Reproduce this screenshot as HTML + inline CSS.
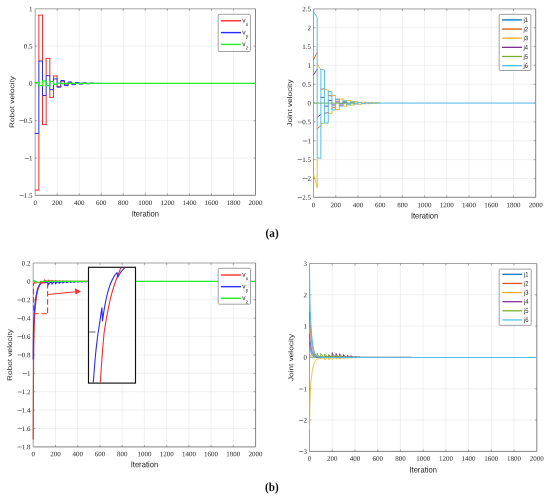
<!DOCTYPE html>
<html><head><meta charset="utf-8"><title>Figure</title>
<style>html,body{margin:0;padding:0;background:#fff}svg{display:block}</style></head>
<body>
<svg width="550" height="499" viewBox="0 0 550 499" text-rendering="geometricPrecision">
<rect x="35.2" y="8.8" width="220.3" height="186.5" fill="#fff"/>
<path d="M57.23 8.8V195.3M79.26 8.8V195.3M101.29 8.8V195.3M123.32 8.8V195.3M145.35 8.8V195.3M167.38 8.8V195.3M189.41 8.8V195.3M211.44 8.8V195.3M233.47 8.8V195.3M35.2 158H255.5M35.2 120.7H255.5M35.2 83.4H255.5M35.2 46.1H255.5" stroke="#e6e6e6" stroke-width="0.6" fill="none"/>
<path d="M35.2 195.3V8.8H255.5" fill="none" stroke="#8c8c8c" stroke-width="0.8"/>
<path d="M35.2 195.3H255.5V8.8" fill="none" stroke="#646464" stroke-width="0.8"/>
<path d="M57.23 195.3v-1.9M57.23 8.8v1.9M79.26 195.3v-1.9M79.26 8.8v1.9M101.29 195.3v-1.9M101.29 8.8v1.9M123.32 195.3v-1.9M123.32 8.8v1.9M145.35 195.3v-1.9M145.35 8.8v1.9M167.38 195.3v-1.9M167.38 8.8v1.9M189.41 195.3v-1.9M189.41 8.8v1.9M211.44 195.3v-1.9M211.44 8.8v1.9M233.47 195.3v-1.9M233.47 8.8v1.9M35.2 158h1.9M255.5 158h-1.9M35.2 120.7h1.9M255.5 120.7h-1.9M35.2 83.4h1.9M255.5 83.4h-1.9M35.2 46.1h1.9M255.5 46.1h-1.9" stroke="#666" stroke-width="0.55" fill="none"/>
<path d="M35.2 190.08L38.86 190.08M38.86 190.08L38.86 133.38M38.86 61.02L38.86 15.14M38.86 15.14L42.51 15.14M42.51 124.43L42.51 95.49M42.51 61.02L42.51 15.14M42.51 124.43L46.17 124.43M46.17 124.43L46.17 95.49M46.17 75.64L46.17 58.41M46.17 58.41L49.83 58.41M49.83 97.42L49.83 89.67M49.83 75.64L49.83 58.41M49.83 97.42L53.48 97.42M53.48 97.42L53.48 89.67M53.48 78.85L53.48 76.01M53.48 76.01L57.14 76.01M57.14 78.85L57.14 76.01M57.14 86.38L60.8 86.38M60.8 81.76L64.46 81.76M64.46 84.3L68.11 84.3M68.11 82.8L71.77 82.8M71.77 83.77L75.43 83.77M75.43 83.18L79.08 83.18M79.08 83.4L82.74 83.4M82.74 83.4L86.4 83.4M86.4 83.4L90.05 83.4M90.05 83.4L93.71 83.4" stroke="#ff2a2a" stroke-width="1.0" fill="none" stroke-linejoin="round" stroke-linecap="round"/>
<path d="M35.2 133.38L38.86 133.38L38.86 61.02L42.51 61.02L42.51 95.49L46.17 95.49L46.17 75.64L49.83 75.64L49.83 89.67L53.48 89.67L53.48 78.85L57.14 78.85L57.14 87.2L60.8 87.2L60.8 80.49L64.46 80.49L64.46 85.56L68.11 85.56L68.11 81.98L71.77 81.98L71.77 84.67L75.43 84.67L75.43 82.5L79.08 82.5L79.08 84.15L82.74 84.15L82.74 82.88L86.4 82.88L86.4 83.77L90.05 83.77L90.05 83.18L93.71 83.18L93.71 83.4L97.37 83.4L97.37 83.4L101.03 83.4" stroke="#2a2aff" stroke-width="1.0" fill="none" stroke-linejoin="round" stroke-linecap="round"/>
<path d="M35.2 82.5L38.86 82.5L38.86 85.64L42.51 85.64L42.51 80.86L46.17 80.86L46.17 85.64L49.83 85.64L49.83 81.46L53.48 81.46L53.48 84.3L57.14 84.3L57.14 83.03L60.8 83.03L60.8 83.55L64.46 83.55L64.46 83.4L68.11 83.4L68.11 83.4L71.77 83.4L71.77 83.4L75.43 83.4L75.43 83.4L79.08 83.4L79.08 83.4L82.74 83.4L82.74 83.4L86.4 83.4L86.4 83.4L90.05 83.4L90.05 83.4L93.71 83.4L93.71 83.4L97.37 83.4L97.37 83.4L101.03 83.4L101.03 83.4L104.68 83.4L104.68 83.4L108.34 83.4L108.34 83.4L112 83.4L112 83.4L115.65 83.4L115.65 83.4L119.31 83.4L119.31 83.4L122.97 83.4L122.97 83.4L126.62 83.4L126.62 83.4L130.28 83.4L130.28 83.4L133.94 83.4L133.94 83.4L137.6 83.4L137.6 83.4L141.25 83.4L141.25 83.4L144.91 83.4L144.91 83.4L148.57 83.4L148.57 83.4L152.22 83.4L152.22 83.4L155.88 83.4L155.88 83.4L159.54 83.4L159.54 83.4L163.19 83.4L163.19 83.4L166.85 83.4L166.85 83.4L170.51 83.4L170.51 83.4L174.17 83.4L174.17 83.4L177.82 83.4L177.82 83.4L181.48 83.4L181.48 83.4L185.14 83.4L185.14 83.4L188.79 83.4L188.79 83.4L192.45 83.4L192.45 83.4L196.11 83.4L196.11 83.4L199.76 83.4L199.76 83.4L203.42 83.4L203.42 83.4L207.08 83.4L207.08 83.4L210.74 83.4L210.74 83.4L214.39 83.4L214.39 83.4L218.05 83.4L218.05 83.4L221.71 83.4L221.71 83.4L225.36 83.4L225.36 83.4L229.02 83.4L229.02 83.4L232.68 83.4L232.68 83.4L236.33 83.4L236.33 83.4L239.99 83.4L239.99 83.4L243.65 83.4L243.65 83.4L247.3 83.4L247.3 83.4L250.96 83.4L250.96 83.4L254.62 83.4L254.62 83.4L255.5 83.4" stroke="#22ee22" stroke-width="1.3" fill="none" stroke-linejoin="round" stroke-linecap="round"/>
<text transform="translate(35.2 205) rotate(0.05) scale(1.03 1.0)" x="-1.7" font-family="'Liberation Serif',serif" font-size="6.8" fill="#262626">0</text>
<text transform="translate(57.23 205) rotate(0.05) scale(1.03 1.0)" x="-5.1" font-family="'Liberation Serif',serif" font-size="6.8" fill="#262626">200</text>
<text transform="translate(79.26 205) rotate(0.05) scale(1.03 1.0)" x="-5.1" font-family="'Liberation Serif',serif" font-size="6.8" fill="#262626">400</text>
<text transform="translate(101.29 205) rotate(0.05) scale(1.03 1.0)" x="-5.1" font-family="'Liberation Serif',serif" font-size="6.8" fill="#262626">600</text>
<text transform="translate(123.32 205) rotate(0.05) scale(1.03 1.0)" x="-5.1" font-family="'Liberation Serif',serif" font-size="6.8" fill="#262626">800</text>
<text transform="translate(145.35 205) rotate(0.05) scale(1.03 1.0)" x="-6.8" font-family="'Liberation Serif',serif" font-size="6.8" fill="#262626">1000</text>
<text transform="translate(167.38 205) rotate(0.05) scale(1.03 1.0)" x="-6.8" font-family="'Liberation Serif',serif" font-size="6.8" fill="#262626">1200</text>
<text transform="translate(189.41 205) rotate(0.05) scale(1.03 1.0)" x="-6.8" font-family="'Liberation Serif',serif" font-size="6.8" fill="#262626">1400</text>
<text transform="translate(211.44 205) rotate(0.05) scale(1.03 1.0)" x="-6.8" font-family="'Liberation Serif',serif" font-size="6.8" fill="#262626">1600</text>
<text transform="translate(233.47 205) rotate(0.05) scale(1.03 1.0)" x="-6.8" font-family="'Liberation Serif',serif" font-size="6.8" fill="#262626">1800</text>
<text transform="translate(255.5 205) rotate(0.05) scale(1.03 1.0)" x="-6.8" font-family="'Liberation Serif',serif" font-size="6.8" fill="#262626">2000</text>
<text transform="translate(32.6 197.7) rotate(0.05) scale(1.03 1.0)" x="-8.5" font-family="'Liberation Serif',serif" font-size="6.8" fill="#262626">1.5</text>
<text transform="translate(24.29 197.7) rotate(0.05) scale(1.4 1.0)" x="-3.83" font-family="'Liberation Serif',serif" font-size="6.8" fill="#262626">−</text>
<text transform="translate(32.6 160.4) rotate(0.05) scale(1.03 1.0)" x="-3.4" font-family="'Liberation Serif',serif" font-size="6.8" fill="#262626">1</text>
<text transform="translate(29.55 160.4) rotate(0.05) scale(1.4 1.0)" x="-3.83" font-family="'Liberation Serif',serif" font-size="6.8" fill="#262626">−</text>
<text transform="translate(32.6 123.1) rotate(0.05) scale(1.03 1.0)" x="-8.5" font-family="'Liberation Serif',serif" font-size="6.8" fill="#262626">0.5</text>
<text transform="translate(24.29 123.1) rotate(0.05) scale(1.4 1.0)" x="-3.83" font-family="'Liberation Serif',serif" font-size="6.8" fill="#262626">−</text>
<text transform="translate(32.6 85.8) rotate(0.05) scale(1.03 1.0)" x="-3.4" font-family="'Liberation Serif',serif" font-size="6.8" fill="#262626">0</text>
<text transform="translate(32.6 48.5) rotate(0.05) scale(1.03 1.0)" x="-8.5" font-family="'Liberation Serif',serif" font-size="6.8" fill="#262626">0.5</text>
<text transform="translate(32.6 11.2) rotate(0.05) scale(1.03 1.0)" x="-3.4" font-family="'Liberation Serif',serif" font-size="6.8" fill="#262626">1</text>
<text transform="translate(145.35 216.6) rotate(0.05) scale(1 1.1)" x="-13.73" font-family="'Liberation Sans',sans-serif" font-size="7.6" fill="#262626">Iteration</text>
<text transform="translate(14.2 102.05) rotate(-89.95) scale(1.215 1)" x="-21.35" font-family="'Liberation Sans',sans-serif" font-size="6.8" fill="#262626">Robot velocity</text>
<rect x="218.2" y="14.3" width="32.2" height="37.2" rx="0.8" fill="#fff" stroke="#8a8a8a" stroke-width="0.8"/>
<path d="M220.9 20.8H241" stroke="#ff2a2a" stroke-width="1.4"/>
<text transform="translate(242.3 22.6) rotate(0.05) scale(1 1.08)" font-family="'Liberation Sans',sans-serif" font-size="6.7" fill="#262626">v<tspan dy="3.1" font-size="5.0">x</tspan></text>
<path d="M220.9 32.6H241" stroke="#2a2aff" stroke-width="1.4"/>
<text transform="translate(242.3 34.4) rotate(0.05) scale(1 1.08)" font-family="'Liberation Sans',sans-serif" font-size="6.7" fill="#262626">v<tspan dy="3.1" font-size="5.0">y</tspan></text>
<path d="M220.9 44.4H241" stroke="#22ee22" stroke-width="1.4"/>
<text transform="translate(242.3 46.2) rotate(0.05) scale(1 1.08)" font-family="'Liberation Sans',sans-serif" font-size="6.7" fill="#262626">v<tspan dy="3.1" font-size="5.0">z</tspan></text>
<rect x="313.5" y="8.9" width="222.2" height="188.4" fill="#fff"/>
<path d="M335.72 8.9V197.3M357.94 8.9V197.3M380.16 8.9V197.3M402.38 8.9V197.3M424.6 8.9V197.3M446.82 8.9V197.3M469.04 8.9V197.3M491.26 8.9V197.3M513.48 8.9V197.3M313.5 178.46H535.7M313.5 159.62H535.7M313.5 140.78H535.7M313.5 121.94H535.7M313.5 103.1H535.7M313.5 84.26H535.7M313.5 65.42H535.7M313.5 46.58H535.7M313.5 27.74H535.7" stroke="#e6e6e6" stroke-width="0.6" fill="none"/>
<path d="M313.5 197.3V8.9H535.7" fill="none" stroke="#8c8c8c" stroke-width="0.8"/>
<path d="M313.5 197.3H535.7V8.9" fill="none" stroke="#646464" stroke-width="0.8"/>
<path d="M335.72 197.3v-1.9M335.72 8.9v1.9M357.94 197.3v-1.9M357.94 8.9v1.9M380.16 197.3v-1.9M380.16 8.9v1.9M402.38 197.3v-1.9M402.38 8.9v1.9M424.6 197.3v-1.9M424.6 8.9v1.9M446.82 197.3v-1.9M446.82 8.9v1.9M469.04 197.3v-1.9M469.04 8.9v1.9M491.26 197.3v-1.9M491.26 8.9v1.9M513.48 197.3v-1.9M513.48 8.9v1.9M313.5 178.46h1.9M535.7 178.46h-1.9M313.5 159.62h1.9M535.7 159.62h-1.9M313.5 140.78h1.9M535.7 140.78h-1.9M313.5 121.94h1.9M535.7 121.94h-1.9M313.5 103.1h1.9M535.7 103.1h-1.9M313.5 84.26h1.9M535.7 84.26h-1.9M313.5 65.42h1.9M535.7 65.42h-1.9M313.5 46.58h1.9M535.7 46.58h-1.9M313.5 27.74h1.9M535.7 27.74h-1.9" stroke="#666" stroke-width="0.55" fill="none"/>
<path d="M313.5 59.77L317.19 52.23M317.19 128.72L320.88 125.71M320.88 89.16L324.57 88.78M324.57 113.27L328.25 112.52M328.25 95.56L331.94 95.94M331.94 108L335.63 107.62M335.63 99.71L339.32 99.9M339.32 105.36L343.01 105.17M343.01 101.59L346.7 101.78M346.7 104.04L350.39 103.85M350.39 102.53L354.07 102.65" stroke="#d95319" stroke-width="0.9" fill="none" stroke-linejoin="round" stroke-linecap="round"/>
<path d="M313.5 173.94L317.19 187.5M317.19 187.5L317.19 157.74M317.19 63.54L320.88 69.94M320.88 123.82L324.57 123.07M324.57 88.97L328.25 90.29M328.25 91.42L328.25 90.29M328.25 113.27L331.94 113.27M331.94 113.27L331.94 109.88M331.94 95.56L335.63 95.56M335.63 99.14L335.63 95.56M335.63 109.51L339.32 109.51M339.32 109.51L339.32 106.11M339.32 99.14L339.32 98.96M339.32 98.96L343.01 98.96M343.01 100.84L343.01 98.96M343.01 106.11L346.7 106.11M346.7 106.11L346.7 104.8M346.7 100.84L346.7 100.46M346.7 100.46L350.39 100.46M350.39 104.98L350.39 104.8M350.39 101.82L350.39 100.46M350.39 104.98L354.07 104.98M354.07 104.98L354.07 104.04M354.07 101.82L354.07 101.59M354.07 101.59L357.76 101.59M357.76 104.23L357.76 104.04M357.76 102.38L357.76 101.59M357.76 104.23L361.45 104.23M361.45 104.23L361.45 103.63M361.45 102.38L361.45 102.27M361.45 102.27L365.14 102.27M365.14 103.7L365.14 103.63M365.14 102.72L365.14 102.27M365.14 103.7L368.83 103.7M368.83 103.7L368.83 103.36M368.83 102.72L368.83 102.65M368.83 102.65L372.52 102.65M372.52 103.4L372.52 103.36M372.52 102.95L372.52 102.65M372.52 103.4L376.2 103.4M376.2 103.4L376.2 103.1M376.2 102.95L376.2 102.91M376.2 102.91L379.89 102.91" stroke="#edb120" stroke-width="0.9" fill="none" stroke-linejoin="round" stroke-linecap="round"/>
<path d="M313.5 74.84L317.19 69.19M317.19 117.42L320.88 114.4M320.88 97.45L324.57 97.26M324.57 106.11L328.25 106.11M328.25 100.46L331.94 100.46M331.94 104.98L335.63 104.98M335.63 101.97L339.32 101.97M339.32 103.85L343.01 103.85M343.01 102.65L346.7 102.65" stroke="#7e2f8e" stroke-width="0.9" fill="none" stroke-linejoin="round" stroke-linecap="round"/>
<path d="M313.5 102.72L317.19 103.48M317.19 102.72L320.88 103.48M320.88 103.1L324.57 103.1M324.57 103.1L328.25 103.1M328.25 103.1L331.94 103.1M331.94 103.1L335.63 103.1M335.63 103.1L339.32 103.1M339.32 103.1L343.01 103.1M343.01 103.1L346.7 103.1M346.7 103.1L350.39 103.1M350.39 103.1L354.07 103.1M354.07 103.1L357.76 103.1" stroke="#77ac30" stroke-width="0.9" fill="none" stroke-linejoin="round" stroke-linecap="round"/>
<path d="M313.5 11.91L317.19 17.19L317.19 157.74L320.88 158.49L320.88 69.19L324.57 69.94L324.57 123.07L328.25 123.07L328.25 91.42L331.94 91.8L331.94 109.88L335.63 109.88L335.63 99.14L339.32 99.14L339.32 106.11L343.01 106.11L343.01 100.84L346.7 100.84L346.7 104.8L350.39 104.8L350.39 101.82L354.07 101.82L354.07 104.04L357.76 104.04L357.76 102.38L361.45 102.38L361.45 103.63L365.14 103.63L365.14 102.72L368.83 102.72L368.83 103.36L372.52 103.36L372.52 102.95L376.2 102.95L376.2 103.1L379.89 103.1L379.89 103.1L383.58 103.1L383.58 103.1L387.27 103.1L387.27 103.1L390.96 103.1L390.96 103.1L394.65 103.1L394.65 103.1L398.34 103.1L398.34 103.1L402.02 103.1L402.02 103.1L405.71 103.1L405.71 103.1L409.4 103.1L409.4 103.1L413.09 103.1L413.09 103.1L416.78 103.1L416.78 103.1L420.47 103.1L420.47 103.1L424.16 103.1L424.16 103.1L427.84 103.1L427.84 103.1L431.53 103.1L431.53 103.1L435.22 103.1L435.22 103.1L438.91 103.1L438.91 103.1L442.6 103.1L442.6 103.1L446.29 103.1L446.29 103.1L449.98 103.1L449.98 103.1L453.66 103.1L453.66 103.1L457.35 103.1L457.35 103.1L461.04 103.1L461.04 103.1L464.73 103.1L464.73 103.1L468.42 103.1L468.42 103.1L472.11 103.1L472.11 103.1L475.79 103.1L475.79 103.1L479.48 103.1L479.48 103.1L483.17 103.1L483.17 103.1L486.86 103.1L486.86 103.1L490.55 103.1L490.55 103.1L494.24 103.1L494.24 103.1L497.93 103.1L497.93 103.1L501.61 103.1L501.61 103.1L505.3 103.1L505.3 103.1L508.99 103.1L508.99 103.1L512.68 103.1L512.68 103.1L516.37 103.1L516.37 103.1L520.06 103.1L520.06 103.1L523.75 103.1L523.75 103.1L527.43 103.1L527.43 103.1L531.12 103.1L531.12 103.1L534.81 103.1L534.81 103.1L535.7 103.1" stroke="#4dbeee" stroke-width="0.98" fill="none" stroke-linejoin="round" stroke-linecap="round"/>
<text transform="translate(313.5 207.2) rotate(0.05) scale(1.03 1.0)" x="-1.7" font-family="'Liberation Serif',serif" font-size="6.8" fill="#262626">0</text>
<text transform="translate(335.72 207.2) rotate(0.05) scale(1.03 1.0)" x="-5.1" font-family="'Liberation Serif',serif" font-size="6.8" fill="#262626">200</text>
<text transform="translate(357.94 207.2) rotate(0.05) scale(1.03 1.0)" x="-5.1" font-family="'Liberation Serif',serif" font-size="6.8" fill="#262626">400</text>
<text transform="translate(380.16 207.2) rotate(0.05) scale(1.03 1.0)" x="-5.1" font-family="'Liberation Serif',serif" font-size="6.8" fill="#262626">600</text>
<text transform="translate(402.38 207.2) rotate(0.05) scale(1.03 1.0)" x="-5.1" font-family="'Liberation Serif',serif" font-size="6.8" fill="#262626">800</text>
<text transform="translate(424.6 207.2) rotate(0.05) scale(1.03 1.0)" x="-6.8" font-family="'Liberation Serif',serif" font-size="6.8" fill="#262626">1000</text>
<text transform="translate(446.82 207.2) rotate(0.05) scale(1.03 1.0)" x="-6.8" font-family="'Liberation Serif',serif" font-size="6.8" fill="#262626">1200</text>
<text transform="translate(469.04 207.2) rotate(0.05) scale(1.03 1.0)" x="-6.8" font-family="'Liberation Serif',serif" font-size="6.8" fill="#262626">1400</text>
<text transform="translate(491.26 207.2) rotate(0.05) scale(1.03 1.0)" x="-6.8" font-family="'Liberation Serif',serif" font-size="6.8" fill="#262626">1600</text>
<text transform="translate(513.48 207.2) rotate(0.05) scale(1.03 1.0)" x="-6.8" font-family="'Liberation Serif',serif" font-size="6.8" fill="#262626">1800</text>
<text transform="translate(535.7 207.2) rotate(0.05) scale(1.03 1.0)" x="-6.8" font-family="'Liberation Serif',serif" font-size="6.8" fill="#262626">2000</text>
<text transform="translate(310.9 199.7) rotate(0.05) scale(1.03 1.0)" x="-8.5" font-family="'Liberation Serif',serif" font-size="6.8" fill="#262626">2.5</text>
<text transform="translate(302.59 199.7) rotate(0.05) scale(1.4 1.0)" x="-3.83" font-family="'Liberation Serif',serif" font-size="6.8" fill="#262626">−</text>
<text transform="translate(310.9 180.86) rotate(0.05) scale(1.03 1.0)" x="-3.4" font-family="'Liberation Serif',serif" font-size="6.8" fill="#262626">2</text>
<text transform="translate(307.85 180.86) rotate(0.05) scale(1.4 1.0)" x="-3.83" font-family="'Liberation Serif',serif" font-size="6.8" fill="#262626">−</text>
<text transform="translate(310.9 162.02) rotate(0.05) scale(1.03 1.0)" x="-8.5" font-family="'Liberation Serif',serif" font-size="6.8" fill="#262626">1.5</text>
<text transform="translate(302.59 162.02) rotate(0.05) scale(1.4 1.0)" x="-3.83" font-family="'Liberation Serif',serif" font-size="6.8" fill="#262626">−</text>
<text transform="translate(310.9 143.18) rotate(0.05) scale(1.03 1.0)" x="-3.4" font-family="'Liberation Serif',serif" font-size="6.8" fill="#262626">1</text>
<text transform="translate(307.85 143.18) rotate(0.05) scale(1.4 1.0)" x="-3.83" font-family="'Liberation Serif',serif" font-size="6.8" fill="#262626">−</text>
<text transform="translate(310.9 124.34) rotate(0.05) scale(1.03 1.0)" x="-8.5" font-family="'Liberation Serif',serif" font-size="6.8" fill="#262626">0.5</text>
<text transform="translate(302.59 124.34) rotate(0.05) scale(1.4 1.0)" x="-3.83" font-family="'Liberation Serif',serif" font-size="6.8" fill="#262626">−</text>
<text transform="translate(310.9 105.5) rotate(0.05) scale(1.03 1.0)" x="-3.4" font-family="'Liberation Serif',serif" font-size="6.8" fill="#262626">0</text>
<text transform="translate(310.9 86.66) rotate(0.05) scale(1.03 1.0)" x="-8.5" font-family="'Liberation Serif',serif" font-size="6.8" fill="#262626">0.5</text>
<text transform="translate(310.9 67.82) rotate(0.05) scale(1.03 1.0)" x="-3.4" font-family="'Liberation Serif',serif" font-size="6.8" fill="#262626">1</text>
<text transform="translate(310.9 48.98) rotate(0.05) scale(1.03 1.0)" x="-8.5" font-family="'Liberation Serif',serif" font-size="6.8" fill="#262626">1.5</text>
<text transform="translate(310.9 30.14) rotate(0.05) scale(1.03 1.0)" x="-3.4" font-family="'Liberation Serif',serif" font-size="6.8" fill="#262626">2</text>
<text transform="translate(310.9 11.3) rotate(0.05) scale(1.03 1.0)" x="-8.5" font-family="'Liberation Serif',serif" font-size="6.8" fill="#262626">2.5</text>
<text transform="translate(424.6 218.5) rotate(0.05) scale(1 1.1)" x="-13.73" font-family="'Liberation Sans',sans-serif" font-size="7.6" fill="#262626">Iteration</text>
<text transform="translate(292 103.1) rotate(-89.95) scale(1.215 1)" x="-19.46" font-family="'Liberation Sans',sans-serif" font-size="6.8" fill="#262626">Joint velocity</text>
<rect x="499.2" y="14.4" width="31.6" height="56.1" rx="0.8" fill="#fff" stroke="#8a8a8a" stroke-width="0.8"/>
<path d="M502.1 19.9H522.1" stroke="#0072bd" stroke-width="1.3"/>
<text transform="translate(523.5 22.05) rotate(0.05) scale(1 1.1)" font-family="'Liberation Sans',sans-serif" font-size="5.8" fill="#1a1a1a">j1</text>
<path d="M502.1 29.05H522.1" stroke="#d95319" stroke-width="1.3"/>
<text transform="translate(523.5 31.2) rotate(0.05) scale(1 1.1)" font-family="'Liberation Sans',sans-serif" font-size="5.8" fill="#1a1a1a">j2</text>
<path d="M502.1 38.2H522.1" stroke="#edb120" stroke-width="1.3"/>
<text transform="translate(523.5 40.35) rotate(0.05) scale(1 1.1)" font-family="'Liberation Sans',sans-serif" font-size="5.8" fill="#1a1a1a">j3</text>
<path d="M502.1 47.35H522.1" stroke="#7e2f8e" stroke-width="1.3"/>
<text transform="translate(523.5 49.5) rotate(0.05) scale(1 1.1)" font-family="'Liberation Sans',sans-serif" font-size="5.8" fill="#1a1a1a">j4</text>
<path d="M502.1 56.5H522.1" stroke="#77ac30" stroke-width="1.3"/>
<text transform="translate(523.5 58.65) rotate(0.05) scale(1 1.1)" font-family="'Liberation Sans',sans-serif" font-size="5.8" fill="#1a1a1a">j5</text>
<path d="M502.1 65.65H522.1" stroke="#4dbeee" stroke-width="1.3"/>
<text transform="translate(523.5 67.8) rotate(0.05) scale(1 1.1)" font-family="'Liberation Sans',sans-serif" font-size="5.8" fill="#1a1a1a">j6</text>
<rect x="33.2" y="263" width="222.4" height="183.9" fill="#fff"/>
<path d="M55.44 263V446.9M77.68 263V446.9M99.92 263V446.9M122.16 263V446.9M144.4 263V446.9M166.64 263V446.9M188.88 263V446.9M211.12 263V446.9M233.36 263V446.9M33.2 428.51H255.6M33.2 410.12H255.6M33.2 391.73H255.6M33.2 373.34H255.6M33.2 354.95H255.6M33.2 336.56H255.6M33.2 318.17H255.6M33.2 299.78H255.6M33.2 281.39H255.6" stroke="#e6e6e6" stroke-width="0.6" fill="none"/>
<path d="M33.2 446.9V263H255.6" fill="none" stroke="#8c8c8c" stroke-width="0.8"/>
<path d="M33.2 446.9H255.6V263" fill="none" stroke="#646464" stroke-width="0.8"/>
<path d="M55.44 446.9v-1.9M55.44 263v1.9M77.68 446.9v-1.9M77.68 263v1.9M99.92 446.9v-1.9M99.92 263v1.9M122.16 446.9v-1.9M122.16 263v1.9M144.4 446.9v-1.9M144.4 263v1.9M166.64 446.9v-1.9M166.64 263v1.9M188.88 446.9v-1.9M188.88 263v1.9M211.12 446.9v-1.9M211.12 263v1.9M233.36 446.9v-1.9M233.36 263v1.9M33.2 428.51h1.9M255.6 428.51h-1.9M33.2 410.12h1.9M255.6 410.12h-1.9M33.2 391.73h1.9M255.6 391.73h-1.9M33.2 373.34h1.9M255.6 373.34h-1.9M33.2 354.95h1.9M255.6 354.95h-1.9M33.2 336.56h1.9M255.6 336.56h-1.9M33.2 318.17h1.9M255.6 318.17h-1.9M33.2 299.78h1.9M255.6 299.78h-1.9M33.2 281.39h1.9M255.6 281.39h-1.9" stroke="#666" stroke-width="0.55" fill="none"/>
<path d="M33.2 439.54 L33.26 423.53 L33.31 409.79 L33.37 397.96 L33.42 387.77 L33.48 378.97 L33.53 371.34 L33.59 364.71 L33.64 358.94 L33.7 353.89 L33.76 349.45 L33.81 345.54 L33.87 342.08 L33.92 339 L33.98 336.25 L34.03 333.78 L34.09 331.55 L34.15 329.53 L34.2 327.69 L34.26 326 L34.31 324.44 L34.37 323 L34.42 321.67 L34.48 320.42 L34.53 319.24 L34.59 318.14 L34.65 317.09 L34.7 316.1 L34.76 315.16 L34.81 314.26 L34.87 313.4 L34.92 312.58 L34.98 311.78 L35.03 311.02 L35.09 310.28 L35.15 309.57 L35.2 308.88 L35.26 308.21 L35.31 307.56 L35.37 306.93 L35.42 306.32 L35.48 305.73 L35.54 305.15 L35.59 304.59 L35.65 304.04 L35.7 303.5 L35.76 302.98 L35.81 302.48 L35.87 301.98 L35.92 301.5 L35.98 301.03 L36.04 300.57 L36.09 300.13 L36.15 299.69 L36.2 299.26 L36.26 298.85 L36.31 298.44 L36.37 298.04 L36.42 297.66 L36.48 297.28 L36.54 296.91 L36.65 296.2 L36.76 295.52 L36.87 294.87 L36.98 294.25 L37.09 293.66 L37.2 293.1 L37.31 292.56 L37.43 292.05 L37.54 291.56 L37.65 291.09 L37.76 290.65 L37.87 290.22 L37.98 289.82 L38.09 289.43 L38.2 289.06 L38.32 288.71 L38.43 288.37 L38.54 288.05 L38.65 287.75 L38.76 287.46 L38.87 287.18 L38.98 286.91 L39.09 286.66 L39.2 286.42 L39.32 286.19 L39.43 285.97 L39.54 285.76 L39.65 285.56 L39.76 285.37 L39.87 285.18 L39.98 285.01 L40.09 284.84 L40.21 284.17 L40.32 284.05 L40.43 283.94 L40.54 283.83 L40.65 281.24 L40.76 281.31 L40.87 281.37 L40.98 281.42 L41.1 281.47 L41.21 281.51 L41.32 281.55 L41.43 281.58 L41.54 281.61 L41.65 281.64 L41.76 281.66 L41.87 281.68 L41.98 281.69 L42.1 281.7 L42.32 281.72 L42.54 281.73 L42.76 281.74 L42.99 281.74 L43.21 281.73 L43.43 281.73 L43.65 281.72 L43.88 281.7 L44.1 281.69 L44.32 279.81 L44.54 280.04 L44.76 280.23 L44.99 280.4 L45.21 280.55 L45.43 280.67 L45.65 280.78 L45.88 280.87 L46.1 280.95 L46.32 281.02 L46.54 281.08 L46.77 281.13 L46.99 281.17 L47.21 281.2 L47.43 281.24 L47.66 281.26 L47.88 281.28 L48.1 280 L48.32 280.18 L48.55 280.34 L48.77 280.48 L48.99 280.6 L49.21 280.71 L49.44 280.8 L49.66 280.88 L49.88 280.95 L50.1 281.01 L50.32 281.06 L50.55 281.1 L50.77 281.14 L50.99 281.18 L51.21 281.2 L51.44 281.23 L51.66 281.25 L51.88 280.36 L52.1 280.49 L52.33 280.61 L52.55 280.71 L52.77 280.8 L52.99 280.88 L53.22 280.94 L53.44 281 L53.66 281.05 L53.88 281.1 L54.11 281.14 L54.33 281.17 L54.55 281.2 L54.77 281.22 L55 281.24 L55.22 281.26 L55.44 280.55 L55.66 280.66 L55.88 280.75 L56.11 280.83 L56.33 280.91 L56.55 280.97 L56.77 281.02 L57 281.07 L57.22 281.11 L57.44 281.15 L57.66 281.18 L57.89 281.21 L58.11 281.23 L58.33 281.25 L58.55 281.27 L58.78 281.29 L59 281.3 L59.22 280.8 L59.44 280.87 L59.67 280.94 L59.89 281 L60.11 281.05 L60.33 281.09 L60.56 281.13 L60.78 281.17 L61 281.19 L61.22 281.22 L61.44 281.24 L61.67 281.26 L61.89 281.28 L62.11 281.29 L62.33 281.3 L62.56 281.32 L62.78 280.91 L63 280.97 L63.22 281.03 L63.45 281.08 L63.67 281.12 L63.89 281.15 L64.11 281.18 L64.34 281.21 L64.56 281.23 L64.78 281.25 L65 281.27 L65.23 281.29 L65.45 281.3 L65.67 281.31 L65.89 281.32 L66.12 281.33 L66.34 281.34 L66.56 281.06 L66.78 281.1 L67 281.14 L67.23 281.17 L67.45 281.2 L67.67 281.22 L67.89 281.24 L68.12 281.26 L68.34 281.28 L68.56 281.29 L68.78 281.31 L69.01 281.32 L69.23 281.33 L69.45 281.33 L69.67 281.34 L69.9 281.35 L70.12 281.35 L70.34 281.16 L70.56 281.19 L70.79 281.21 L71.01 281.24 L71.23 281.26 L71.45 281.27 L71.68 281.29 L71.9 281.3 L72.12 281.31 L72.34 281.32 L72.56 281.33 L72.79 281.34 L73.01 281.35 L73.23 281.35 L73.45 281.36 L73.68 281.36 L73.9 281.2 L74.12 281.23 L74.34 281.25 L74.57 281.27 L74.79 281.28 L75.01 281.3 L75.23 281.31 L75.46 281.32 L75.68 281.33 L75.9 281.34 L76.12 281.34 L76.35 281.35 L76.57 281.35 L76.79 281.36 L77.01 281.36 L77.24 281.37 L77.46 281.37 L77.68 281.26 L77.9 281.28 L78.12 281.29 L78.35 281.3 L78.57 281.31 L78.79 281.32 L79.01 281.33 L79.24 281.34 L79.46 281.35 L79.68 281.35 L79.9 281.36 L80.13 281.36 L80.35 281.37 L80.57 281.37 L80.79 281.37 L81.02 281.37 L81.24 281.28 L81.46 281.3 L81.68 281.31 L81.91 281.32 L82.13 281.33 L82.35 281.34 L82.57 281.34 L82.8 281.35 L83.02 281.36 L83.24 281.36 L83.46 281.36 L83.68 281.37 L83.91 281.37 L84.13 281.37 L84.35 281.37 L84.57 281.38 L84.8 281.38 L85.02 281.32 L85.24 281.33 L85.46 281.33 L85.69 281.34 L85.91 281.35 L86.13 281.35 L86.35 281.36 L86.58 281.36 L86.8 281.37 L87.02 281.37 L87.24 281.37 L87.47 281.37 L87.69 281.38 L87.91 281.38 L88.13 281.38 L88.36 281.38 L88.58 281.38 L88.8 281.34 L89.02 281.35 L89.24 281.35 L89.47 281.36 L89.69 281.36 L89.91 281.36 L90.13 281.37 L90.36 281.37 L90.58 281.37 L90.8 281.38 L91.02 281.38 L91.25 281.38 L91.47 281.38 L91.69 281.38 L91.91 281.38 L92.14 281.38 L92.36 281.35 L92.58 281.35 L92.8 281.36 L93.03 281.36 L93.25 281.37 L93.47 281.37 L93.69 281.37 L93.92 281.37 L94.14 281.38 L94.36 281.38 L94.58 281.38 L94.8 281.38 L95.03 281.38 L95.25 281.38 L95.47 281.38 L95.69 281.38 L95.92 281.39 L96.14 281.36 L96.36 281.36 L96.58 281.37 L96.81 281.37 L97.03 281.37 L97.25 281.38 L97.47 281.38 L97.7 281.38 L97.92 281.38 L98.14 281.38 L98.36 281.38 L98.59 281.38 L98.81 281.38 L99.03 281.39 L99.25 281.39 L99.48 281.39 L99.7 281.37 L99.92 281.37 L100.14 281.37 L100.36 281.37 L100.59 281.38 L100.81 281.38 L101.03 281.38 L101.25 281.38 L101.48 281.38 L101.7 281.38 L101.92 281.38 L102.14 281.38 L102.37 281.39 L102.59 281.39 L102.81 281.39 L103.03 281.39 L103.26 281.39 L103.48 281.37 L103.7 281.38 L103.92 281.38 L104.15 281.38 L104.37 281.38 L104.59 281.38 L104.81 281.38 L105.04 281.38 L105.26 281.38 L105.48 281.39 L105.7 281.39 L105.92 281.39 L106.15 281.39 L106.37 281.39 L106.59 281.39 L106.81 281.39 L107.04 281.39 L107.26 281.38 L107.48 281.38 L107.7 281.38 L107.93 281.38 L108.15 281.38 L108.37 281.38 L108.59 281.39 L108.82 281.39 L109.04 281.39 L109.26 281.39 L109.48 281.39 L109.71 281.39 L109.93 281.39 L110.15 281.39 L110.37 281.39 L110.6 281.39 L110.82 281.38 L111.04 281.38" stroke="#ff2a2a" stroke-width="1.1" fill="none" stroke-linejoin="round" />
<path d="M33.2 359.55 L33.26 351.09 L33.31 344.44 L33.37 339.17 L33.42 334.95 L33.48 331.52 L33.53 328.71 L33.59 326.36 L33.64 324.38 L33.7 322.67 L33.76 321.17 L33.81 319.84 L33.87 318.64 L33.92 317.55 L33.98 316.54 L34.03 315.59 L34.09 314.7 L34.15 313.86 L34.2 313.05 L34.26 312.28 L34.31 311.54 L34.37 310.82 L34.42 310.12 L34.48 309.45 L34.53 308.79 L34.59 308.15 L34.65 307.53 L34.7 306.93 L34.76 306.33 L34.81 305.76 L34.87 305.2 L34.92 304.65 L34.98 304.11 L35.03 303.59 L35.09 303.08 L35.15 302.58 L35.2 302.09 L35.26 301.61 L35.31 301.15 L35.37 300.7 L35.42 300.25 L35.48 299.82 L35.54 299.39 L35.59 298.98 L35.65 298.58 L35.7 298.18 L35.76 297.79 L35.81 297.42 L35.87 297.05 L35.92 296.69 L35.98 296.34 L36.04 295.99 L36.09 295.66 L36.15 295.33 L36.2 295.01 L36.26 294.7 L36.31 294.39 L36.37 294.09 L36.42 293.8 L36.48 293.51 L36.54 293.24 L36.65 292.7 L36.76 292.18 L36.87 291.69 L36.98 291.22 L37.09 290.78 L37.2 290.35 L37.31 289.94 L37.43 289.56 L37.54 289.18 L37.65 288.83 L37.76 288.49 L37.87 288.17 L37.98 287.86 L38.09 287.57 L38.2 287.29 L38.32 287.02 L38.43 286.76 L38.54 286.52 L38.65 286.29 L38.76 286.06 L38.87 285.85 L38.98 285.65 L39.09 285.45 L39.2 285.27 L39.32 285.09 L39.43 284.92 L39.54 284.76 L39.65 284.61 L39.76 284.46 L39.87 284.32 L39.98 284.19 L40.09 284.06 L40.21 283.94 L40.32 283.83 L40.43 283.72 L40.54 283.61 L40.65 283.51 L40.76 283.41 L40.87 283.32 L40.98 283.23 L41.1 283.15 L41.21 283.07 L41.32 282.99 L41.43 282.92 L41.54 282.85 L41.65 282.78 L41.76 282.72 L41.87 282.66 L41.98 282.6 L42.1 282.55 L42.32 282.44 L42.54 282.35 L42.76 282.27 L42.99 282.19 L43.21 282.12 L43.43 282.05 L43.65 281.99 L43.88 281.96 L44.1 281.95 L44.32 282.44 L44.54 282.53 L44.76 282.58 L44.99 282.61 L45.21 282.61 L45.43 282.59 L45.65 282.56 L45.88 282.51 L46.1 282.47 L46.32 282.41 L46.54 282.35 L46.77 282.3 L46.99 282.24 L47.21 282.18 L47.43 282.12 L47.66 282.07 L47.88 282.02 L48.1 285.07 L48.32 284.7 L48.55 284.29 L48.77 283.93 L48.99 283.62 L49.21 283.35 L49.44 283.11 L49.66 282.9 L49.88 282.71 L50.1 282.55 L50.32 282.41 L50.55 282.28 L50.77 282.17 L50.99 282.08 L51.21 281.99 L51.44 281.92 L51.66 281.85 L51.88 284.28 L52.1 283.92 L52.33 283.61 L52.55 283.33 L52.77 283.09 L52.99 282.88 L53.22 282.7 L53.44 282.54 L53.66 282.39 L53.88 282.27 L54.11 282.16 L54.33 282.07 L54.55 281.98 L54.77 281.91 L55 281.85 L55.22 281.79 L55.44 283.95 L55.66 283.63 L55.88 283.35 L56.11 283.11 L56.33 282.9 L56.55 282.71 L56.77 282.55 L57 282.4 L57.22 282.28 L57.44 282.17 L57.66 282.07 L57.89 281.99 L58.11 281.91 L58.33 281.85 L58.55 281.79 L58.78 281.74 L59 281.7 L59.22 283.38 L59.44 283.14 L59.67 282.92 L59.89 282.73 L60.11 282.56 L60.33 282.42 L60.56 282.29 L60.78 282.18 L61 282.08 L61.22 282 L61.44 281.92 L61.67 281.86 L61.89 281.8 L62.11 281.75 L62.33 281.7 L62.56 281.66 L62.78 283.16 L63 282.94 L63.22 282.75 L63.45 282.58 L63.67 282.44 L63.89 282.31 L64.11 282.19 L64.34 282.09 L64.56 282.01 L64.78 281.93 L65 281.86 L65.23 281.8 L65.45 281.75 L65.67 281.71 L65.89 281.67 L66.12 281.63 L66.34 281.6 L66.56 282.77 L66.78 282.6 L67 282.45 L67.23 282.32 L67.45 282.21 L67.67 282.1 L67.89 282.02 L68.12 281.94 L68.34 281.87 L68.56 281.81 L68.78 281.76 L69.01 281.71 L69.23 281.67 L69.45 281.64 L69.67 281.61 L69.9 281.58 L70.12 281.56 L70.34 282.47 L70.56 282.34 L70.79 282.22 L71.01 282.12 L71.23 282.03 L71.45 281.95 L71.68 281.88 L71.9 281.82 L72.12 281.77 L72.34 281.72 L72.56 281.68 L72.79 281.64 L73.01 281.61 L73.23 281.58 L73.45 281.56 L73.68 281.54 L73.9 282.35 L74.12 282.23 L74.34 282.13 L74.57 282.04 L74.79 281.96 L75.01 281.89 L75.23 281.83 L75.46 281.77 L75.68 281.72 L75.9 281.68 L76.12 281.65 L76.35 281.61 L76.57 281.59 L76.79 281.56 L77.01 281.54 L77.24 281.52 L77.46 281.51 L77.68 282.14 L77.9 282.05 L78.12 281.97 L78.35 281.89 L78.57 281.83 L78.79 281.78 L79.01 281.73 L79.24 281.69 L79.46 281.65 L79.68 281.62 L79.9 281.59 L80.13 281.57 L80.35 281.54 L80.57 281.52 L80.79 281.51 L81.02 281.49 L81.24 282.06 L81.46 281.98 L81.68 281.9 L81.91 281.84 L82.13 281.78 L82.35 281.74 L82.57 281.69 L82.8 281.65 L83.02 281.62 L83.24 281.59 L83.46 281.57 L83.68 281.55 L83.91 281.53 L84.13 281.51 L84.35 281.49 L84.57 281.48 L84.8 281.47 L85.02 281.91 L85.24 281.85 L85.46 281.79 L85.69 281.74 L85.91 281.7 L86.13 281.66 L86.35 281.63 L86.58 281.6 L86.8 281.57 L87.02 281.55 L87.24 281.53 L87.47 281.51 L87.69 281.5 L87.91 281.48 L88.13 281.47 L88.36 281.46 L88.58 281.45 L88.8 281.8 L89.02 281.75 L89.24 281.7 L89.47 281.66 L89.69 281.63 L89.91 281.6 L90.13 281.57 L90.36 281.55 L90.58 281.53 L90.8 281.51 L91.02 281.5 L91.25 281.48 L91.47 281.47 L91.69 281.46 L91.91 281.45 L92.14 281.45 L92.36 281.75 L92.58 281.71 L92.8 281.67 L93.03 281.63 L93.25 281.6 L93.47 281.58 L93.69 281.55 L93.92 281.53 L94.14 281.52 L94.36 281.5 L94.58 281.49 L94.8 281.47 L95.03 281.46 L95.25 281.45 L95.47 281.45 L95.69 281.44 L95.92 281.43 L96.14 281.67 L96.36 281.64 L96.58 281.61 L96.81 281.58 L97.03 281.56 L97.25 281.54 L97.47 281.52 L97.7 281.5 L97.92 281.49 L98.14 281.48 L98.36 281.47 L98.59 281.46 L98.81 281.45 L99.03 281.44 L99.25 281.43 L99.48 281.43 L99.7 281.64 L99.92 281.61 L100.14 281.58 L100.36 281.56 L100.59 281.54 L100.81 281.52 L101.03 281.5 L101.25 281.49 L101.48 281.48 L101.7 281.47 L101.92 281.46 L102.14 281.45 L102.37 281.44 L102.59 281.44 L102.81 281.43 L103.03 281.42 L103.26 281.42 L103.48 281.59 L103.7 281.56 L103.92 281.54 L104.15 281.52 L104.37 281.51 L104.59 281.49 L104.81 281.48 L105.04 281.47 L105.26 281.46 L105.48 281.45 L105.7 281.44 L105.92 281.44 L106.15 281.43 L106.37 281.43 L106.59 281.42 L106.81 281.42 L107.04 281.41 L107.26 281.54 L107.48 281.52 L107.7 281.51 L107.93 281.49 L108.15 281.48 L108.37 281.47 L108.59 281.46 L108.82 281.45 L109.04 281.44 L109.26 281.44 L109.48 281.43 L109.71 281.43 L109.93 281.42 L110.15 281.42 L110.37 281.41 L110.6 281.41 L110.82 281.53 L111.04 281.51" stroke="#2a2aff" stroke-width="1.1" fill="none" stroke-linejoin="round" />
<path d="M33.2 280.11 L33.26 280.16 L33.31 280.21 L33.37 280.26 L33.42 280.31 L33.48 280.36 L33.53 280.4 L33.59 280.44 L33.64 280.48 L33.7 280.52 L33.76 280.56 L33.81 280.6 L33.87 280.63 L33.92 280.67 L33.98 280.7 L34.03 280.73 L34.09 280.76 L34.15 280.79 L34.2 280.82 L34.26 280.85 L34.31 280.88 L34.37 280.9 L34.42 280.93 L34.48 280.96 L34.53 280.98 L34.59 281.01 L34.65 281.03 L34.7 281.05 L34.76 281.08 L34.81 281.1 L34.87 281.12 L34.92 281.15 L34.98 281.17 L35.03 281.19 L35.09 281.21 L35.15 281.24 L35.2 281.26 L35.26 281.28 L35.31 281.3 L35.37 281.32 L35.42 281.35 L35.48 281.37 L35.54 281.39 L35.59 281.42 L35.65 281.44 L35.7 281.46 L35.76 281.49 L35.81 281.51 L35.87 281.53 L35.92 281.56 L35.98 281.58 L36.04 281.61 L36.09 281.63 L36.15 281.66 L36.2 281.69 L36.26 281.71 L36.31 281.74 L36.37 281.77 L36.42 281.79 L36.48 281.82 L36.54 281.85 L36.65 281.9 L36.76 281.96 L36.87 282.02 L36.98 282.07 L37.09 282.13 L37.2 282.18 L37.31 282.24 L37.43 282.29 L37.54 282.34 L37.65 282.39 L37.76 282.44 L37.87 282.48 L37.98 282.52 L38.09 282.55 L38.2 282.58 L38.32 282.61 L38.43 282.63 L38.54 282.64 L38.65 282.65 L38.76 282.66 L38.87 282.66 L38.98 282.65 L39.09 282.64 L39.2 282.62 L39.32 282.6 L39.43 282.57 L39.54 282.54 L39.65 282.51 L39.76 282.47 L39.87 282.43 L39.98 282.38 L40.09 282.34 L40.21 282.29 L40.32 282.24 L40.43 282.19 L40.54 282.14 L40.65 282.09 L40.76 282.04 L40.87 282 L40.98 281.95 L41.1 281.9 L41.21 281.86 L41.32 281.82 L41.43 281.78 L41.54 281.74 L41.65 281.71 L41.76 281.67 L41.87 281.64 L41.98 281.61 L42.1 281.59 L42.32 281.54 L42.54 281.51 L42.76 281.48 L42.99 281.45 L43.21 281.44 L43.43 281.42 L43.65 281.41 L43.88 281.41 L44.1 281.4 L44.32 281.4 L44.54 281.39 L44.76 281.39 L44.99 281.39 L45.21 281.39 L45.43 281.39 L45.65 281.39 L45.88 281.39 L46.1 281.39 L46.32 281.39 L46.54 281.39 L46.77 281.39 L46.99 281.39 L47.21 281.39 L47.43 281.39 L47.66 281.39 L47.88 281.39 L48.1 281.39 L48.32 281.39 L48.55 281.39 L48.77 281.39 L48.99 281.39 L49.21 281.39 L49.44 281.39 L49.66 281.39 L49.88 281.39 L50.1 281.39 L50.32 281.39 L50.55 281.39 L50.77 281.39 L50.99 281.39 L51.21 281.39 L51.44 281.39 L51.66 281.39 L51.88 281.39 L52.1 281.39 L52.33 281.39 L52.55 281.39 L52.77 281.39 L52.99 281.39 L53.22 281.39 L53.44 281.39 L53.66 281.39 L53.88 281.39 L54.11 281.39 L54.33 281.39 L54.55 281.39 L54.77 281.39 L55 281.39 L55.22 281.39 L55.44 281.39 L55.66 281.39 L55.88 281.39 L56.11 281.39 L56.33 281.39 L56.55 281.39 L56.77 281.39 L57 281.39 L57.22 281.39 L57.44 281.39 L57.66 281.39 L57.89 281.39 L58.11 281.39 L58.33 281.39 L58.55 281.39 L58.78 281.39 L59 281.39 L59.22 281.39 L59.44 281.39 L59.67 281.39 L59.89 281.39 L60.11 281.39 L60.33 281.39 L60.56 281.39 L60.78 281.39 L61 281.39 L61.22 281.39 L61.44 281.39 L61.67 281.39 L61.89 281.39 L62.11 281.39 L62.33 281.39 L62.56 281.39 L62.78 281.39 L63 281.39 L63.22 281.39 L63.45 281.39 L63.67 281.39 L63.89 281.39 L64.11 281.39 L64.34 281.39 L64.56 281.39 L64.78 281.39 L65 281.39 L65.23 281.39 L65.45 281.39 L65.67 281.39 L65.89 281.39 L66.12 281.39 L66.34 281.39 L66.56 281.39 L66.78 281.39 L67 281.39 L67.23 281.39 L67.45 281.39 L67.67 281.39 L67.89 281.39 L68.12 281.39 L68.34 281.39 L68.56 281.39 L68.78 281.39 L69.01 281.39 L69.23 281.39 L69.45 281.39 L69.67 281.39 L69.9 281.39 L70.12 281.39 L70.34 281.39 L70.56 281.39 L70.79 281.39 L71.01 281.39 L71.23 281.39 L71.45 281.39 L71.68 281.39 L71.9 281.39 L72.12 281.39 L72.34 281.39 L72.56 281.39 L72.79 281.39 L73.01 281.39 L73.23 281.39 L73.45 281.39 L73.68 281.39 L73.9 281.39 L74.12 281.39 L74.34 281.39 L74.57 281.39 L74.79 281.39 L75.01 281.39 L75.23 281.39 L75.46 281.39 L75.68 281.39 L75.9 281.39 L76.12 281.39 L76.35 281.39 L76.57 281.39 L76.79 281.39 L77.01 281.39 L77.24 281.39 L77.46 281.39 L77.68 281.39 L77.9 281.39 L78.12 281.39 L78.35 281.39 L78.57 281.39 L78.79 281.39 L79.01 281.39 L79.24 281.39 L79.46 281.39 L79.68 281.39 L79.9 281.39 L80.13 281.39 L80.35 281.39 L80.57 281.39 L80.79 281.39 L81.02 281.39 L81.24 281.39 L81.46 281.39 L81.68 281.39 L81.91 281.39 L82.13 281.39 L82.35 281.39 L82.57 281.39 L82.8 281.39 L83.02 281.39 L83.24 281.39 L83.46 281.39 L83.68 281.39 L83.91 281.39 L84.13 281.39 L84.35 281.39 L84.57 281.39 L84.8 281.39 L85.02 281.39 L85.24 281.39 L85.46 281.39 L85.69 281.39 L85.91 281.39 L86.13 281.39 L86.35 281.39 L86.58 281.39 L86.8 281.39 L87.02 281.39 L87.24 281.39 L87.47 281.39 L87.69 281.39 L87.91 281.39 L88.13 281.39 L88.36 281.39 L88.58 281.39 L88.8 281.39 L89.02 281.39 L89.24 281.39 L89.47 281.39 L89.69 281.39 L89.91 281.39 L90.13 281.39 L90.36 281.39 L90.58 281.39 L90.8 281.39 L91.02 281.39 L91.25 281.39 L91.47 281.39 L91.69 281.39 L91.91 281.39 L92.14 281.39 L92.36 281.39 L92.58 281.39 L92.8 281.39 L93.03 281.39 L93.25 281.39 L93.47 281.39 L93.69 281.39 L93.92 281.39 L94.14 281.39 L94.36 281.39 L94.58 281.39 L94.8 281.39 L95.03 281.39 L95.25 281.39 L95.47 281.39 L95.69 281.39 L95.92 281.39 L96.14 281.39 L96.36 281.39 L96.58 281.39 L96.81 281.39 L97.03 281.39 L97.25 281.39 L97.47 281.39 L97.7 281.39 L97.92 281.39 L98.14 281.39 L98.36 281.39 L98.59 281.39 L98.81 281.39 L99.03 281.39 L99.25 281.39 L99.48 281.39 L99.7 281.39 L99.92 281.39 L100.14 281.39 L100.36 281.39 L100.59 281.39 L100.81 281.39 L101.03 281.39 L101.25 281.39 L101.48 281.39 L101.7 281.39 L101.92 281.39 L102.14 281.39 L102.37 281.39 L102.59 281.39 L102.81 281.39 L103.03 281.39 L103.26 281.39 L103.48 281.39 L103.7 281.39 L103.92 281.39 L104.15 281.39 L104.37 281.39 L104.59 281.39 L104.81 281.39 L105.04 281.39 L105.26 281.39 L105.48 281.39 L105.7 281.39 L105.92 281.39 L106.15 281.39 L106.37 281.39 L106.59 281.39 L106.81 281.39 L107.04 281.39 L107.26 281.39 L107.48 281.39 L107.7 281.39 L107.93 281.39 L108.15 281.39 L108.37 281.39 L108.59 281.39 L108.82 281.39 L109.04 281.39 L109.26 281.39 L109.48 281.39 L109.71 281.39 L109.93 281.39 L110.15 281.39 L110.37 281.39 L110.6 281.39 L110.82 281.39 L111.04 281.39 L111.26 281.39 L111.48 281.39 L111.71 281.39 L111.93 281.39 L112.15 281.39 L112.37 281.39 L112.6 281.39 L112.82 281.39 L113.04 281.39 L113.26 281.39 L113.49 281.39 L113.71 281.39 L113.93 281.39 L114.15 281.39 L114.38 281.39 L114.6 281.39 L114.82 281.39 L115.04 281.39 L115.27 281.39 L115.49 281.39 L115.71 281.39 L115.93 281.39 L116.16 281.39 L116.38 281.39 L116.6 281.39 L116.82 281.39 L117.04 281.39 L117.27 281.39 L117.49 281.39 L117.71 281.39 L117.93 281.39 L118.16 281.39 L118.38 281.39 L118.6 281.39 L118.82 281.39 L119.05 281.39 L119.27 281.39 L119.49 281.39 L119.71 281.39 L119.94 281.39 L120.16 281.39 L120.38 281.39 L120.6 281.39 L120.83 281.39 L121.05 281.39 L121.27 281.39 L121.49 281.39 L121.72 281.39 L121.94 281.39 L122.16 281.39 L122.38 281.39 L122.6 281.39 L122.83 281.39 L123.05 281.39 L123.27 281.39 L123.49 281.39 L123.72 281.39 L123.94 281.39 L124.16 281.39 L124.38 281.39 L124.61 281.39 L124.83 281.39 L125.05 281.39 L125.27 281.39 L125.5 281.39 L125.72 281.39 L125.94 281.39 L126.16 281.39 L126.39 281.39 L126.61 281.39 L126.83 281.39 L127.05 281.39 L127.28 281.39 L127.5 281.39 L127.72 281.39 L127.94 281.39 L128.16 281.39 L128.39 281.39 L128.61 281.39 L128.83 281.39 L129.05 281.39 L129.28 281.39 L129.5 281.39 L129.72 281.39 L129.94 281.39 L130.17 281.39 L130.39 281.39 L130.61 281.39 L130.83 281.39 L131.06 281.39 L131.28 281.39 L131.5 281.39 L131.72 281.39 L131.95 281.39 L132.17 281.39 L132.39 281.39 L132.61 281.39 L132.84 281.39 L133.06 281.39 L133.28 281.39 L166.64 281.39 L211.12 281.39 L255.6 281.39" stroke="#22ee22" stroke-width="1.35" fill="none" stroke-linejoin="round" />
<text transform="translate(33.2 456.3) rotate(0.05) scale(1.03 1.0)" x="-1.7" font-family="'Liberation Serif',serif" font-size="6.8" fill="#262626">0</text>
<text transform="translate(55.44 456.3) rotate(0.05) scale(1.03 1.0)" x="-5.1" font-family="'Liberation Serif',serif" font-size="6.8" fill="#262626">200</text>
<text transform="translate(77.68 456.3) rotate(0.05) scale(1.03 1.0)" x="-5.1" font-family="'Liberation Serif',serif" font-size="6.8" fill="#262626">400</text>
<text transform="translate(99.92 456.3) rotate(0.05) scale(1.03 1.0)" x="-5.1" font-family="'Liberation Serif',serif" font-size="6.8" fill="#262626">600</text>
<text transform="translate(122.16 456.3) rotate(0.05) scale(1.03 1.0)" x="-5.1" font-family="'Liberation Serif',serif" font-size="6.8" fill="#262626">800</text>
<text transform="translate(144.4 456.3) rotate(0.05) scale(1.03 1.0)" x="-6.8" font-family="'Liberation Serif',serif" font-size="6.8" fill="#262626">1000</text>
<text transform="translate(166.64 456.3) rotate(0.05) scale(1.03 1.0)" x="-6.8" font-family="'Liberation Serif',serif" font-size="6.8" fill="#262626">1200</text>
<text transform="translate(188.88 456.3) rotate(0.05) scale(1.03 1.0)" x="-6.8" font-family="'Liberation Serif',serif" font-size="6.8" fill="#262626">1400</text>
<text transform="translate(211.12 456.3) rotate(0.05) scale(1.03 1.0)" x="-6.8" font-family="'Liberation Serif',serif" font-size="6.8" fill="#262626">1600</text>
<text transform="translate(233.36 456.3) rotate(0.05) scale(1.03 1.0)" x="-6.8" font-family="'Liberation Serif',serif" font-size="6.8" fill="#262626">1800</text>
<text transform="translate(255.6 456.3) rotate(0.05) scale(1.03 1.0)" x="-6.8" font-family="'Liberation Serif',serif" font-size="6.8" fill="#262626">2000</text>
<text transform="translate(30.6 449.3) rotate(0.05) scale(1.03 1.0)" x="-8.5" font-family="'Liberation Serif',serif" font-size="6.8" fill="#262626">1.8</text>
<text transform="translate(22.29 449.3) rotate(0.05) scale(1.4 1.0)" x="-3.83" font-family="'Liberation Serif',serif" font-size="6.8" fill="#262626">−</text>
<text transform="translate(30.6 430.91) rotate(0.05) scale(1.03 1.0)" x="-8.5" font-family="'Liberation Serif',serif" font-size="6.8" fill="#262626">1.6</text>
<text transform="translate(22.29 430.91) rotate(0.05) scale(1.4 1.0)" x="-3.83" font-family="'Liberation Serif',serif" font-size="6.8" fill="#262626">−</text>
<text transform="translate(30.6 412.52) rotate(0.05) scale(1.03 1.0)" x="-8.5" font-family="'Liberation Serif',serif" font-size="6.8" fill="#262626">1.4</text>
<text transform="translate(22.29 412.52) rotate(0.05) scale(1.4 1.0)" x="-3.83" font-family="'Liberation Serif',serif" font-size="6.8" fill="#262626">−</text>
<text transform="translate(30.6 394.13) rotate(0.05) scale(1.03 1.0)" x="-8.5" font-family="'Liberation Serif',serif" font-size="6.8" fill="#262626">1.2</text>
<text transform="translate(22.29 394.13) rotate(0.05) scale(1.4 1.0)" x="-3.83" font-family="'Liberation Serif',serif" font-size="6.8" fill="#262626">−</text>
<text transform="translate(30.6 375.74) rotate(0.05) scale(1.03 1.0)" x="-3.4" font-family="'Liberation Serif',serif" font-size="6.8" fill="#262626">1</text>
<text transform="translate(27.55 375.74) rotate(0.05) scale(1.4 1.0)" x="-3.83" font-family="'Liberation Serif',serif" font-size="6.8" fill="#262626">−</text>
<text transform="translate(30.6 357.35) rotate(0.05) scale(1.03 1.0)" x="-8.5" font-family="'Liberation Serif',serif" font-size="6.8" fill="#262626">0.8</text>
<text transform="translate(22.29 357.35) rotate(0.05) scale(1.4 1.0)" x="-3.83" font-family="'Liberation Serif',serif" font-size="6.8" fill="#262626">−</text>
<text transform="translate(30.6 338.96) rotate(0.05) scale(1.03 1.0)" x="-8.5" font-family="'Liberation Serif',serif" font-size="6.8" fill="#262626">0.6</text>
<text transform="translate(22.29 338.96) rotate(0.05) scale(1.4 1.0)" x="-3.83" font-family="'Liberation Serif',serif" font-size="6.8" fill="#262626">−</text>
<text transform="translate(30.6 320.57) rotate(0.05) scale(1.03 1.0)" x="-8.5" font-family="'Liberation Serif',serif" font-size="6.8" fill="#262626">0.4</text>
<text transform="translate(22.29 320.57) rotate(0.05) scale(1.4 1.0)" x="-3.83" font-family="'Liberation Serif',serif" font-size="6.8" fill="#262626">−</text>
<text transform="translate(30.6 302.18) rotate(0.05) scale(1.03 1.0)" x="-8.5" font-family="'Liberation Serif',serif" font-size="6.8" fill="#262626">0.2</text>
<text transform="translate(22.29 302.18) rotate(0.05) scale(1.4 1.0)" x="-3.83" font-family="'Liberation Serif',serif" font-size="6.8" fill="#262626">−</text>
<text transform="translate(30.6 283.79) rotate(0.05) scale(1.03 1.0)" x="-3.4" font-family="'Liberation Serif',serif" font-size="6.8" fill="#262626">0</text>
<text transform="translate(30.6 265.4) rotate(0.05) scale(1.03 1.0)" x="-8.5" font-family="'Liberation Serif',serif" font-size="6.8" fill="#262626">0.2</text>
<text transform="translate(144.4 467.2) rotate(0.05) scale(1 1.1)" x="-13.73" font-family="'Liberation Sans',sans-serif" font-size="7.6" fill="#262626">Iteration</text>
<text transform="translate(11.9 354.95) rotate(-89.95) scale(1.215 1)" x="-21.35" font-family="'Liberation Sans',sans-serif" font-size="6.8" fill="#262626">Robot velocity</text>
<path d="M33.5 282.9H47.6V313.7M33.5 282.9V313.7H47.6" fill="none" stroke="#ff2a2a" stroke-width="1.1" stroke-dasharray="5.5 2.7" stroke-dashoffset="2.3"/>
<path d="M47.6 294.4L76 291.85" stroke="#ff2a2a" stroke-width="1.05" fill="none"/>
<path d="M81 291.4L75 288.3L75.5 294.5Z" fill="#ff2a2a"/>
<rect x="88.5" y="267.3" width="47" height="115.8" fill="#fff" stroke="#111" stroke-width="1.15"/>
<path d="M89 336.7H135" stroke="#efefef" stroke-width="0.5"/>
<path d="M89.2 332H95.4" stroke="#555" stroke-width="0.9"/>
<path d="M100.3 382.6C100.62 378 101.62 362.77 102.2 355C102.78 347.23 103.42 340.17 103.8 336C104.18 331.83 103.93 333.62 104.5 330C105.07 326.38 106.2 319.57 107.2 314.3C108.2 309.03 109.4 303.03 110.5 298.4C111.6 293.77 112.7 290.03 113.8 286.5C114.9 282.97 115.93 280.3 117.1 277.2C118.27 274.1 120.18 269.45 120.8 267.9" stroke="#ff2a2a" stroke-width="1.1" fill="none" stroke-linejoin="round"/>
<path d="M93.3 382.6C93.67 378 94.75 362.93 95.5 355C96.25 347.07 97.28 339.17 97.8 335C98.32 330.83 98.14 333.02 98.6 330C99.06 326.98 100 320.62 100.55 316.9C101.1 313.18 101.68 309.23 101.9 307.7L102.5 320.9C102.83 318.7 103.72 312.12 104.5 307.7C105.28 303.28 106.2 298.38 107.2 294.4C108.2 290.42 109.3 286.88 110.5 283.8C111.7 280.72 113.3 277.77 114.4 275.9C115.5 274.03 116.65 273.15 117.1 272.6L117.7 277.2C118.25 276.32 119.85 273.45 121 271.9C122.15 270.35 124 268.57 124.6 267.9" stroke="#2a2aff" stroke-width="1.1" fill="none" stroke-linejoin="round"/>
<rect x="218.2" y="268.3" width="32.3" height="35.9" rx="0.8" fill="#fff" stroke="#8a8a8a" stroke-width="0.8"/>
<path d="M220.9 275H241" stroke="#ff2a2a" stroke-width="1.4"/>
<text transform="translate(242.3 276.8) rotate(0.05) scale(1 1.08)" font-family="'Liberation Sans',sans-serif" font-size="6.7" fill="#262626">v<tspan dy="3.1" font-size="5.0">x</tspan></text>
<path d="M220.9 286.65H241" stroke="#2a2aff" stroke-width="1.4"/>
<text transform="translate(242.3 288.45) rotate(0.05) scale(1 1.08)" font-family="'Liberation Sans',sans-serif" font-size="6.7" fill="#262626">v<tspan dy="3.1" font-size="5.0">y</tspan></text>
<path d="M220.9 298.3H241" stroke="#22ee22" stroke-width="1.4"/>
<text transform="translate(242.3 300.1) rotate(0.05) scale(1 1.08)" font-family="'Liberation Sans',sans-serif" font-size="6.7" fill="#262626">v<tspan dy="3.1" font-size="5.0">z</tspan></text>
<rect x="309.5" y="263.5" width="227.3" height="187.9" fill="#fff"/>
<path d="M332.23 263.5V451.4M354.96 263.5V451.4M377.69 263.5V451.4M400.42 263.5V451.4M423.15 263.5V451.4M445.88 263.5V451.4M468.61 263.5V451.4M491.34 263.5V451.4M514.07 263.5V451.4M309.5 420.08H536.8M309.5 388.77H536.8M309.5 357.45H536.8M309.5 326.13H536.8M309.5 294.82H536.8" stroke="#e6e6e6" stroke-width="0.6" fill="none"/>
<path d="M309.5 451.4V263.5H536.8" fill="none" stroke="#8c8c8c" stroke-width="0.8"/>
<path d="M309.5 451.4H536.8V263.5" fill="none" stroke="#646464" stroke-width="0.8"/>
<path d="M332.23 451.4v-1.9M332.23 263.5v1.9M354.96 451.4v-1.9M354.96 263.5v1.9M377.69 451.4v-1.9M377.69 263.5v1.9M400.42 451.4v-1.9M400.42 263.5v1.9M423.15 451.4v-1.9M423.15 263.5v1.9M445.88 451.4v-1.9M445.88 263.5v1.9M468.61 451.4v-1.9M468.61 263.5v1.9M491.34 451.4v-1.9M491.34 263.5v1.9M514.07 451.4v-1.9M514.07 263.5v1.9M309.5 420.08h1.9M536.8 420.08h-1.9M309.5 388.77h1.9M536.8 388.77h-1.9M309.5 357.45h1.9M536.8 357.45h-1.9M309.5 326.13h1.9M536.8 326.13h-1.9M309.5 294.82h1.9M536.8 294.82h-1.9" stroke="#666" stroke-width="0.55" fill="none"/>
<path d="M309.5 341.79 L309.56 342.43 L309.61 343.04 L309.67 343.63 L309.73 344.2 L309.78 344.74 L309.84 345.26 L309.9 345.75 L309.95 346.23 L310.01 346.69 L310.07 347.13 L310.13 347.55 L310.18 347.95 L310.24 348.34 L310.3 348.71 L310.35 349.07 L310.41 349.41 L310.47 349.74 L310.52 350.05 L310.58 350.36 L310.64 350.64 L310.69 350.92 L310.75 351.19 L310.81 351.44 L310.86 351.69 L310.92 351.92 L310.98 352.15 L311.03 352.37 L311.09 352.57 L311.15 352.77 L311.2 352.96 L311.26 353.15 L311.32 353.32 L311.38 353.49 L311.43 353.65 L311.49 353.81 L311.55 353.96 L311.6 354.1 L311.66 354.24 L311.72 354.37 L311.77 354.49 L311.83 354.61 L311.89 354.73 L311.94 354.84 L312 354.95 L312.06 355.05 L312.11 355.15 L312.17 355.24 L312.23 355.33 L312.28 355.42 L312.34 355.5 L312.4 355.58 L312.45 355.66 L312.51 355.73 L312.57 355.8 L312.63 355.87 L312.68 355.93 L312.74 355.99 L312.8 356.05 L312.85 356.11 L312.91 356.16 L313.02 356.27 L313.14 356.36 L313.25 356.45 L313.36 356.53 L313.48 356.6 L313.59 356.67 L313.71 356.73 L313.82 356.79 L313.93 356.84 L314.05 356.89 L314.16 356.94 L314.27 356.98 L314.39 357.01 L314.5 357.05 L314.61 357.08 L314.73 357.11 L314.84 357.14 L314.96 357.16 L315.07 357.19 L315.18 357.21 L315.3 357.23 L315.41 357.24 L315.52 357.26 L315.64 357.28 L315.75 357.29 L315.86 357.3 L315.98 357.31 L316.09 357.33 L316.21 357.34 L316.32 357.34 L316.43 357.35 L316.55 357.36 L316.66 357.36 L316.77 357.37 L316.89 357.38 L317 357.38 L317.11 357.34 L317.23 357.35 L317.34 357.35 L317.46 357.35 L317.57 357.35 L317.68 357.35 L317.8 357.35 L317.91 357.36 L318.02 357.36 L318.14 357.36 L318.25 357.36 L318.36 357.36 L318.48 357.37 L318.59 357.37 L318.82 357.37 L319.05 357.38 L319.27 357.38 L319.5 357.39 L319.73 357.39 L319.96 357.4 L320.18 357.4 L320.41 357.4 L320.64 357.41 L320.87 357.17 L321.09 357.19 L321.32 357.21 L321.55 357.23 L321.77 357.25 L322 357.26 L322.23 357.28 L322.46 357.29 L322.68 357.3 L322.91 357.32 L323.14 357.33 L323.37 357.34 L323.59 357.35 L323.82 357.36 L324.05 357.36 L324.27 357.37 L324.5 357.38 L324.73 356.97 L324.96 357.01 L325.18 357.05 L325.41 357.09 L325.64 357.12 L325.87 357.15 L326.09 357.18 L326.32 357.2 L326.55 357.23 L326.77 357.25 L327 357.28 L327.23 357.3 L327.46 357.32 L327.68 357.33 L327.91 357.35 L328.14 357.36 L328.37 357.37 L328.59 356.92 L328.82 356.99 L329.05 357.04 L329.28 357.09 L329.5 357.13 L329.73 357.17 L329.96 357.2 L330.18 357.23 L330.41 357.26 L330.64 357.28 L330.87 357.3 L331.09 357.32 L331.32 357.33 L331.55 357.35 L331.78 357.36 L332 357.37 L332.23 356.94 L332.46 357 L332.68 357.05 L332.91 357.1 L333.14 357.14 L333.37 357.18 L333.59 357.21 L333.82 357.24 L334.05 357.27 L334.28 357.29 L334.5 357.31 L334.73 357.32 L334.96 357.34 L335.18 357.35 L335.41 357.36 L335.64 357.37 L335.87 357.38 L336.09 357.02 L336.32 357.07 L336.55 357.12 L336.78 357.16 L337 357.19 L337.23 357.22 L337.46 357.25 L337.69 357.27 L337.91 357.3 L338.14 357.31 L338.37 357.33 L338.59 357.34 L338.82 357.36 L339.05 357.37 L339.28 357.38 L339.5 357.39 L339.73 357.04 L339.96 357.09 L340.19 357.13 L340.41 357.17 L340.64 357.21 L340.87 357.24 L341.09 357.26 L341.32 357.28 L341.55 357.3 L341.78 357.32 L342 357.34 L342.23 357.35 L342.46 357.36 L342.69 357.37 L342.91 357.38 L343.14 357.39 L343.37 357.4 L343.59 357.12 L343.82 357.16 L344.05 357.19 L344.28 357.23 L344.5 357.25 L344.73 357.28 L344.96 357.3 L345.19 357.32 L345.41 357.33 L345.64 357.35 L345.87 357.36 L346.1 357.37 L346.32 357.38 L346.55 357.39 L346.78 357.4 L347 357.4 L347.23 357.41 L347.46 357.19 L347.69 357.22 L347.91 357.25 L348.14 357.27 L348.37 357.3 L348.6 357.31 L348.82 357.33 L349.05 357.35 L349.28 357.36 L349.5 357.37 L349.73 357.38 L349.96 357.39 L350.19 357.4 L350.41 357.4 L350.64 357.41 L350.87 357.41 L351.1 357.22 L351.32 357.25 L351.55 357.28 L351.78 357.3 L352.01 357.32 L352.23 357.33 L352.46 357.35 L352.69 357.36 L352.91 357.37 L353.14 357.38 L353.37 357.39 L353.6 357.4 L353.82 357.41 L354.05 357.41 L354.28 357.42 L354.51 357.42 L354.73 357.42 L354.96 357.29 L355.19 357.31 L355.41 357.33 L355.64 357.34 L355.87 357.36 L356.1 357.37 L356.32 357.38 L356.55 357.39 L356.78 357.4 L357.01 357.4 L357.23 357.41 L357.46 357.42 L357.69 357.42 L357.91 357.42 L358.14 357.43 L358.37 357.43 L358.6 357.33 L358.82 357.35 L359.05 357.36 L359.28 357.37 L359.51 357.39 L359.73 357.39 L359.96 357.4 L360.19 357.41 L360.42 357.42 L360.64 357.42 L360.87 357.42 L361.1 357.43 L361.32 357.43 L361.55 357.43 L361.78 357.44 L362.01 357.44 L362.23 357.44 L362.46 357.39 L362.69 357.4 L362.92 357.41 L363.14 357.42 L363.37 357.42 L363.6 357.43 L363.82 357.43 L364.05 357.44 L364.28 357.44 L364.51 357.44 L364.73 357.44 L364.96 357.44 L365.19 357.45 L365.42 357.45 L365.64 357.45 L365.87 357.45 L366.1 357.45 L366.32 357.45 L366.55 357.45 L366.78 357.45 L367.01 357.45 L367.23 357.45 L367.46 357.45 L367.69 357.45 L367.92 357.45 L368.14 357.45 L368.37 357.45 L368.6 357.45 L368.83 357.45 L369.05 357.45 L369.28 357.45 L369.51 357.45 L369.73 357.45 L369.96 357.45 L370.19 357.45 L370.42 357.45 L370.64 357.45 L370.87 357.45 L371.1 357.45 L371.33 357.45 L371.55 357.45 L371.78 357.45 L372.01 357.45 L372.23 357.45 L372.46 357.45 L372.69 357.45 L372.92 357.45 L373.14 357.45 L373.37 357.45 L373.6 357.45 L373.83 357.45 L374.05 357.45 L374.28 357.45 L374.51 357.45 L374.74 357.45 L374.96 357.45 L375.19 357.45 L375.42 357.45 L375.64 357.45 L375.87 357.45 L376.1 357.45 L376.33 357.45 L376.55 357.45 L376.78 357.45 L377.01 357.45 L377.24 357.45 L377.46 357.45 L377.69 357.45 L377.92 357.45 L378.14 357.45 L378.37 357.45 L378.6 357.45 L378.83 357.45 L379.05 357.45 L379.28 357.45 L379.51 357.45 L379.74 357.45 L379.96 357.45 L380.19 357.45 L380.42 357.45 L380.64 357.45 L380.87 357.45 L381.1 357.45 L381.33 357.45 L381.55 357.45 L381.78 357.45 L382.01 357.45 L382.24 357.45 L382.46 357.45 L382.69 357.45 L382.92 357.45 L383.15 357.45 L383.37 357.45 L383.6 357.45 L383.83 357.45 L384.05 357.45 L384.28 357.45 L384.51 357.45 L384.74 357.45 L384.96 357.45 L385.19 357.45 L385.42 357.45 L385.65 357.45 L385.87 357.45 L386.1 357.45 L386.33 357.45 L386.55 357.45 L386.78 357.45 L387.01 357.45 L387.24 357.45 L387.46 357.45 L387.69 357.45 L387.92 357.45 L388.15 357.45 L388.37 357.45 L388.6 357.45 L388.83 357.45 L389.05 357.45 L389.28 357.45 L389.51 357.45 L389.74 357.45 L389.96 357.45 L390.19 357.45 L390.42 357.45 L390.65 357.45 L390.87 357.45 L391.1 357.45 L391.33 357.45 L391.56 357.45 L391.78 357.45 L392.01 357.45 L392.24 357.45 L392.46 357.45 L392.69 357.45 L392.92 357.45 L393.15 357.45 L393.37 357.45 L393.6 357.45 L393.83 357.45 L394.06 357.45 L394.28 357.45 L394.51 357.45 L394.74 357.45 L394.96 357.45 L395.19 357.45 L395.42 357.45 L395.65 357.45 L395.87 357.45 L396.1 357.45 L396.33 357.45 L396.56 357.45 L396.78 357.45 L397.01 357.45 L397.24 357.45 L397.47 357.45 L397.69 357.45 L397.92 357.45 L398.15 357.45 L398.37 357.45 L398.6 357.45 L398.83 357.45 L399.06 357.45 L399.28 357.45 L399.51 357.45 L399.74 357.45 L399.97 357.45 L400.19 357.45 L400.42 357.45 L400.65 357.45 L400.87 357.45 L401.1 357.45 L401.33 357.45 L401.56 357.45 L401.78 357.45 L402.01 357.45 L402.24 357.45 L402.47 357.45 L402.69 357.45 L402.92 357.45 L403.15 357.45 L403.37 357.45 L403.6 357.45 L403.83 357.45 L404.06 357.45 L404.28 357.45 L404.51 357.45 L404.74 357.45 L404.97 357.45 L405.19 357.45 L405.42 357.45 L405.65 357.45 L405.88 357.45 L406.1 357.45 L406.33 357.45 L406.56 357.45 L406.78 357.45 L407.01 357.45 L407.24 357.45 L407.47 357.45 L407.69 357.45 L407.92 357.45 L408.15 357.45 L408.38 357.45 L408.6 357.45 L408.83 357.45 L409.06 357.45 L409.28 357.45 L409.51 357.45 L409.74 357.45 L409.97 357.45 L410.19 357.45 L410.42 357.45 L410.65 357.45 L410.88 357.45 L411.1 357.45 L411.33 357.45 L411.56 357.45 L411.78 357.45" stroke="#0072bd" stroke-width="0.95" fill="none" stroke-linejoin="round" />
<path d="M309.5 312.04 L309.56 313.36 L309.61 314.63 L309.67 315.88 L309.73 317.08 L309.78 318.25 L309.84 319.39 L309.9 320.49 L309.95 321.56 L310.01 322.6 L310.07 323.61 L310.13 324.59 L310.18 325.54 L310.24 326.47 L310.3 327.37 L310.35 328.24 L310.41 329.09 L310.47 329.91 L310.52 330.71 L310.58 331.48 L310.64 332.23 L310.69 332.96 L310.75 333.67 L310.81 334.36 L310.86 335.03 L310.92 335.68 L310.98 336.31 L311.03 336.93 L311.09 337.52 L311.15 338.1 L311.2 338.66 L311.26 339.2 L311.32 339.73 L311.38 340.25 L311.43 340.74 L311.49 341.23 L311.55 341.7 L311.6 342.16 L311.66 342.6 L311.72 343.03 L311.77 343.45 L311.83 343.85 L311.89 344.25 L311.94 344.63 L312 345 L312.06 345.36 L312.11 345.71 L312.17 346.05 L312.23 346.38 L312.28 346.7 L312.34 347.02 L312.4 347.32 L312.45 347.61 L312.51 347.9 L312.57 348.17 L312.63 348.44 L312.68 348.7 L312.74 348.96 L312.8 349.2 L312.85 349.44 L312.91 349.67 L313.02 350.12 L313.14 350.54 L313.25 350.93 L313.36 351.3 L313.48 351.66 L313.59 351.99 L313.71 352.3 L313.82 352.59 L313.93 352.87 L314.05 353.13 L314.16 353.38 L314.27 353.61 L314.39 353.83 L314.5 354.04 L314.61 354.23 L314.73 354.42 L314.84 354.59 L314.96 354.75 L315.07 354.91 L315.18 355.05 L315.3 355.19 L315.41 355.32 L315.52 355.44 L315.64 355.55 L315.75 355.66 L315.86 355.77 L315.98 355.86 L316.09 355.95 L316.21 356.04 L316.32 356.12 L316.43 356.19 L316.55 356.26 L316.66 356.32 L316.77 356.38 L316.89 356.44 L317 356.5 L317.11 356.43 L317.23 356.47 L317.34 356.51 L317.46 356.54 L317.57 356.58 L317.68 356.61 L317.8 356.65 L317.91 356.68 L318.02 356.71 L318.14 356.74 L318.25 356.77 L318.36 356.8 L318.48 356.83 L318.59 356.86 L318.82 356.91 L319.05 356.95 L319.27 356.99 L319.5 357.03 L319.73 357.07 L319.96 357.1 L320.18 357.14 L320.41 357.16 L320.64 357.19 L320.87 356.51 L321.09 356.58 L321.32 356.65 L321.55 356.71 L321.77 356.77 L322 356.82 L322.23 356.87 L322.46 356.92 L322.68 356.97 L322.91 357.01 L323.14 357.04 L323.37 357.09 L323.59 357.14 L323.82 357.17 L324.05 357.21 L324.27 357.23 L324.5 357.26 L324.73 356.33 L324.96 356.46 L325.18 356.58 L325.41 356.68 L325.64 356.78 L325.87 356.86 L326.09 356.93 L326.32 356.99 L326.55 357.05 L326.77 357.1 L327 357.14 L327.23 357.18 L327.46 357.21 L327.68 357.24 L327.91 357.26 L328.14 357.29 L328.37 357.31 L328.59 356.53 L328.82 356.64 L329.05 356.74 L329.28 356.82 L329.5 356.9 L329.73 356.97 L329.96 357.03 L330.18 357.08 L330.41 357.12 L330.64 357.16 L330.87 357.2 L331.09 357.23 L331.32 357.26 L331.55 357.28 L331.78 357.3 L332 357.32 L332.23 356.6 L332.46 356.7 L332.68 356.79 L332.91 356.87 L333.14 356.94 L333.37 357.01 L333.59 357.06 L333.82 357.11 L334.05 357.15 L334.28 357.19 L334.5 357.22 L334.73 357.25 L334.96 357.27 L335.18 357.3 L335.41 357.31 L335.64 357.33 L335.87 357.35 L336.09 356.78 L336.32 356.86 L336.55 356.93 L336.78 357 L337 357.05 L337.23 357.1 L337.46 357.15 L337.69 357.18 L337.91 357.22 L338.14 357.25 L338.37 357.27 L338.59 357.29 L338.82 357.31 L339.05 357.33 L339.28 357.35 L339.5 357.36 L339.73 356.86 L339.96 356.94 L340.19 357 L340.41 357.06 L340.64 357.11 L340.87 357.15 L341.09 357.19 L341.32 357.22 L341.55 357.25 L341.78 357.28 L342 357.3 L342.23 357.32 L342.46 357.34 L342.69 357.35 L342.91 357.36 L343.14 357.38 L343.37 357.39 L343.59 357.03 L343.82 357.09 L344.05 357.14 L344.28 357.18 L344.5 357.21 L344.73 357.24 L344.96 357.27 L345.19 357.3 L345.41 357.32 L345.64 357.33 L345.87 357.35 L346.1 357.36 L346.32 357.38 L346.55 357.39 L346.78 357.39 L347 357.4 L347.23 357.41 L347.46 357.19 L347.69 357.22 L347.91 357.26 L348.14 357.28 L348.37 357.31 L348.6 357.33 L348.82 357.35 L349.05 357.36 L349.28 357.37 L349.5 357.39 L349.73 357.4 L349.96 357.4 L350.19 357.41 L350.41 357.42 L350.64 357.42 L350.87 357.43 L351.1 357.31 L351.32 357.33 L351.55 357.35 L351.78 357.37 L352.01 357.38 L352.23 357.39 L352.46 357.4 L352.69 357.41 L352.91 357.42 L353.14 357.43 L353.37 357.43 L353.6 357.44 L353.82 357.44 L354.05 357.44 L354.28 357.45 L354.51 357.45 L354.73 357.45 L354.96 357.45 L355.19 357.45 L355.41 357.45 L355.64 357.45 L355.87 357.45 L356.1 357.45 L356.32 357.45 L356.55 357.45 L356.78 357.45 L357.01 357.45 L357.23 357.45 L357.46 357.45 L357.69 357.45 L357.91 357.45 L358.14 357.45 L358.37 357.45 L358.6 357.45 L358.82 357.45 L359.05 357.45 L359.28 357.45 L359.51 357.45 L359.73 357.45 L359.96 357.45 L360.19 357.45 L360.42 357.45 L360.64 357.45 L360.87 357.45 L361.1 357.45 L361.32 357.45 L361.55 357.45 L361.78 357.45 L362.01 357.45 L362.23 357.45 L362.46 357.45 L362.69 357.45 L362.92 357.45 L363.14 357.45 L363.37 357.45 L363.6 357.45 L363.82 357.45 L364.05 357.45 L364.28 357.45 L364.51 357.45 L364.73 357.45 L364.96 357.45 L365.19 357.45 L365.42 357.45 L365.64 357.45 L365.87 357.45 L366.1 357.45 L366.32 357.45 L366.55 357.45 L366.78 357.45 L367.01 357.45 L367.23 357.45 L367.46 357.45 L367.69 357.45 L367.92 357.45 L368.14 357.45 L368.37 357.45 L368.6 357.45 L368.83 357.45 L369.05 357.45 L369.28 357.45 L369.51 357.45 L369.73 357.45 L369.96 357.45 L370.19 357.45 L370.42 357.45 L370.64 357.45 L370.87 357.45 L371.1 357.45 L371.33 357.45 L371.55 357.45 L371.78 357.45 L372.01 357.45 L372.23 357.45 L372.46 357.45 L372.69 357.45 L372.92 357.45 L373.14 357.45 L373.37 357.45 L373.6 357.45 L373.83 357.45 L374.05 357.45 L374.28 357.45 L374.51 357.45 L374.74 357.45 L374.96 357.45 L375.19 357.45 L375.42 357.45 L375.64 357.45 L375.87 357.45 L376.1 357.45 L376.33 357.45 L376.55 357.45 L376.78 357.45 L377.01 357.45 L377.24 357.45 L377.46 357.45 L377.69 357.45 L377.92 357.45 L378.14 357.45 L378.37 357.45 L378.6 357.45 L378.83 357.45 L379.05 357.45 L379.28 357.45 L379.51 357.45 L379.74 357.45 L379.96 357.45 L380.19 357.45 L380.42 357.45 L380.64 357.45 L380.87 357.45 L381.1 357.45 L381.33 357.45 L381.55 357.45 L381.78 357.45 L382.01 357.45 L382.24 357.45 L382.46 357.45 L382.69 357.45 L382.92 357.45 L383.15 357.45 L383.37 357.45 L383.6 357.45 L383.83 357.45 L384.05 357.45 L384.28 357.45 L384.51 357.45 L384.74 357.45 L384.96 357.45 L385.19 357.45 L385.42 357.45 L385.65 357.45 L385.87 357.45 L386.1 357.45 L386.33 357.45 L386.55 357.45 L386.78 357.45 L387.01 357.45 L387.24 357.45 L387.46 357.45 L387.69 357.45 L387.92 357.45 L388.15 357.45 L388.37 357.45 L388.6 357.45 L388.83 357.45 L389.05 357.45 L389.28 357.45 L389.51 357.45 L389.74 357.45 L389.96 357.45 L390.19 357.45 L390.42 357.45 L390.65 357.45 L390.87 357.45 L391.1 357.45 L391.33 357.45 L391.56 357.45 L391.78 357.45 L392.01 357.45 L392.24 357.45 L392.46 357.45 L392.69 357.45 L392.92 357.45 L393.15 357.45 L393.37 357.45 L393.6 357.45 L393.83 357.45 L394.06 357.45 L394.28 357.45 L394.51 357.45 L394.74 357.45 L394.96 357.45 L395.19 357.45 L395.42 357.45 L395.65 357.45 L395.87 357.45 L396.1 357.45 L396.33 357.45 L396.56 357.45 L396.78 357.45 L397.01 357.45 L397.24 357.45 L397.47 357.45 L397.69 357.45 L397.92 357.45 L398.15 357.45 L398.37 357.45 L398.6 357.45 L398.83 357.45 L399.06 357.45 L399.28 357.45 L399.51 357.45 L399.74 357.45 L399.97 357.45 L400.19 357.45 L400.42 357.45 L400.65 357.45 L400.87 357.45 L401.1 357.45 L401.33 357.45 L401.56 357.45 L401.78 357.45 L402.01 357.45 L402.24 357.45 L402.47 357.45 L402.69 357.45 L402.92 357.45 L403.15 357.45 L403.37 357.45 L403.6 357.45 L403.83 357.45 L404.06 357.45 L404.28 357.45 L404.51 357.45 L404.74 357.45 L404.97 357.45 L405.19 357.45 L405.42 357.45 L405.65 357.45 L405.88 357.45 L406.1 357.45 L406.33 357.45 L406.56 357.45 L406.78 357.45 L407.01 357.45 L407.24 357.45 L407.47 357.45 L407.69 357.45 L407.92 357.45 L408.15 357.45 L408.38 357.45 L408.6 357.45 L408.83 357.45 L409.06 357.45 L409.28 357.45 L409.51 357.45 L409.74 357.45 L409.97 357.45 L410.19 357.45 L410.42 357.45 L410.65 357.45 L410.88 357.45 L411.1 357.45 L411.33 357.45 L411.56 357.45 L411.78 357.45" stroke="#d95319" stroke-width="0.95" fill="none" stroke-linejoin="round" />
<path d="M309.5 429.48 L309.56 424.35 L309.61 419.87 L309.67 415.92 L309.73 412.45 L309.78 409.37 L309.84 406.64 L309.9 404.19 L309.95 401.99 L310.01 400.01 L310.07 398.21 L310.13 396.57 L310.18 395.07 L310.24 393.69 L310.3 392.41 L310.35 391.22 L310.41 390.11 L310.47 389.08 L310.52 388.1 L310.58 387.17 L310.64 386.3 L310.69 385.47 L310.75 384.67 L310.81 383.92 L310.86 383.19 L310.92 382.49 L310.98 381.82 L311.03 381.18 L311.09 380.55 L311.15 379.95 L311.2 379.37 L311.26 378.81 L311.32 378.26 L311.38 377.73 L311.43 377.22 L311.49 376.72 L311.55 376.23 L311.6 375.76 L311.66 375.3 L311.72 374.85 L311.77 374.42 L311.83 374 L311.89 373.58 L311.94 373.18 L312 372.79 L312.06 372.41 L312.11 372.04 L312.17 371.68 L312.23 371.32 L312.28 370.98 L312.34 370.65 L312.4 370.32 L312.45 370 L312.51 369.69 L312.57 369.39 L312.63 369.09 L312.68 368.8 L312.74 368.52 L312.8 368.25 L312.85 367.98 L312.91 367.72 L313.02 367.22 L313.14 366.75 L313.25 366.29 L313.36 365.86 L313.48 365.45 L313.59 365.06 L313.71 364.69 L313.82 364.34 L313.93 364 L314.05 363.68 L314.16 363.38 L314.27 363.09 L314.39 362.81 L314.5 362.55 L314.61 362.3 L314.73 362.07 L314.84 361.84 L314.96 361.63 L315.07 361.42 L315.18 361.23 L315.3 361.04 L315.41 360.87 L315.52 360.7 L315.64 360.54 L315.75 360.39 L315.86 360.25 L315.98 360.11 L316.09 359.98 L316.21 359.86 L316.32 359.74 L316.43 359.63 L316.55 359.52 L316.66 359.42 L316.77 359.33 L316.89 359.23 L317 359.15 L317.11 359.07 L317.23 358.99 L317.34 358.91 L317.46 358.84 L317.57 358.8 L317.68 358.76 L317.8 358.72 L317.91 358.68 L318.02 358.65 L318.14 358.61 L318.25 358.57 L318.36 358.53 L318.48 358.5 L318.59 358.46 L318.82 358.39 L319.05 358.32 L319.27 358.26 L319.5 358.2 L319.73 358.14 L319.96 358.09 L320.18 358.04 L320.41 358 L320.64 357.95 L320.87 358.87 L321.09 358.78 L321.32 358.7 L321.55 358.61 L321.77 358.53 L322 358.45 L322.23 358.38 L322.46 358.31 L322.68 358.24 L322.91 358.18 L323.14 358.12 L323.37 358.07 L323.59 358.02 L323.82 357.97 L324.05 357.93 L324.27 357.88 L324.5 357.85 L324.73 359.77 L324.96 359.57 L325.18 359.39 L325.41 359.22 L325.64 359.01 L325.87 358.82 L326.09 358.66 L326.32 358.52 L326.55 358.39 L326.77 358.28 L327 358.18 L327.23 358.09 L327.46 358.02 L327.68 357.95 L327.91 357.89 L328.14 357.84 L328.37 357.79 L328.59 359.62 L328.82 359.36 L329.05 359.13 L329.28 358.93 L329.5 358.76 L329.73 358.6 L329.96 358.46 L330.18 358.34 L330.41 358.23 L330.64 358.14 L330.87 358.06 L331.09 357.99 L331.32 357.92 L331.55 357.86 L331.78 357.82 L332 357.77 L332.23 359.53 L332.46 359.28 L332.68 359.06 L332.91 358.87 L333.14 358.7 L333.37 358.55 L333.59 358.41 L333.82 358.3 L334.05 358.2 L334.28 358.11 L334.5 358.03 L334.73 357.96 L334.96 357.9 L335.18 357.84 L335.41 357.79 L335.64 357.75 L335.87 357.72 L336.09 359.18 L336.32 358.97 L336.55 358.79 L336.78 358.62 L337 358.48 L337.23 358.36 L337.46 358.25 L337.69 358.15 L337.91 358.06 L338.14 357.99 L338.37 357.92 L338.59 357.87 L338.82 357.82 L339.05 357.77 L339.28 357.73 L339.5 357.7 L339.73 359.06 L339.96 358.86 L340.19 358.69 L340.41 358.54 L340.64 358.4 L340.87 358.29 L341.09 358.18 L341.32 358.09 L341.55 358.01 L341.78 357.95 L342 357.88 L342.23 357.83 L342.46 357.78 L342.69 357.74 L342.91 357.71 L343.14 357.67 L343.37 357.65 L343.59 358.73 L343.82 358.57 L344.05 358.43 L344.28 358.31 L344.5 358.2 L344.73 358.11 L344.96 358.03 L345.19 357.95 L345.41 357.89 L345.64 357.84 L345.87 357.79 L346.1 357.75 L346.32 357.71 L346.55 357.68 L346.78 357.65 L347 357.62 L347.23 357.6 L347.46 358.42 L347.69 358.3 L347.91 358.19 L348.14 358.1 L348.37 358.02 L348.6 357.94 L348.82 357.88 L349.05 357.83 L349.28 357.78 L349.5 357.74 L349.73 357.7 L349.96 357.67 L350.19 357.64 L350.41 357.61 L350.64 357.59 L350.87 357.57 L351.1 358.25 L351.32 358.15 L351.55 358.05 L351.78 357.97 L352.01 357.91 L352.23 357.85 L352.46 357.79 L352.69 357.75 L352.91 357.71 L353.14 357.67 L353.37 357.64 L353.6 357.62 L353.82 357.59 L354.05 357.58 L354.28 357.56 L354.51 357.54 L354.73 357.53 L354.96 357.96 L355.19 357.89 L355.41 357.83 L355.64 357.78 L355.87 357.73 L356.1 357.69 L356.32 357.66 L356.55 357.63 L356.78 357.6 L357.01 357.58 L357.23 357.56 L357.46 357.54 L357.69 357.53 L357.91 357.52 L358.14 357.51 L358.37 357.5 L358.6 357.75 L358.82 357.7 L359.05 357.66 L359.28 357.63 L359.51 357.6 L359.73 357.57 L359.96 357.55 L360.19 357.53 L360.42 357.52 L360.64 357.5 L360.87 357.49 L361.1 357.48 L361.32 357.48 L361.55 357.47 L361.78 357.46 L362.01 357.46 L362.23 357.46 L362.46 357.48 L362.69 357.46 L362.92 357.45 L363.14 357.45 L363.37 357.45 L363.6 357.45 L363.82 357.45 L364.05 357.45 L364.28 357.45 L364.51 357.45 L364.73 357.45 L364.96 357.45 L365.19 357.45 L365.42 357.45 L365.64 357.45 L365.87 357.45 L366.1 357.45 L366.32 357.45 L366.55 357.45 L366.78 357.45 L367.01 357.45 L367.23 357.45 L367.46 357.45 L367.69 357.45 L367.92 357.45 L368.14 357.45 L368.37 357.45 L368.6 357.45 L368.83 357.45 L369.05 357.45 L369.28 357.45 L369.51 357.45 L369.73 357.45 L369.96 357.45 L370.19 357.45 L370.42 357.45 L370.64 357.45 L370.87 357.45 L371.1 357.45 L371.33 357.45 L371.55 357.45 L371.78 357.45 L372.01 357.45 L372.23 357.45 L372.46 357.45 L372.69 357.45 L372.92 357.45 L373.14 357.45 L373.37 357.45 L373.6 357.45 L373.83 357.45 L374.05 357.45 L374.28 357.45 L374.51 357.45 L374.74 357.45 L374.96 357.45 L375.19 357.45 L375.42 357.45 L375.64 357.45 L375.87 357.45 L376.1 357.45 L376.33 357.45 L376.55 357.45 L376.78 357.45 L377.01 357.45 L377.24 357.45 L377.46 357.45 L377.69 357.45 L377.92 357.45 L378.14 357.45 L378.37 357.45 L378.6 357.45 L378.83 357.45 L379.05 357.45 L379.28 357.45 L379.51 357.45 L379.74 357.45 L379.96 357.45 L380.19 357.45 L380.42 357.45 L380.64 357.45 L380.87 357.45 L381.1 357.45 L381.33 357.45 L381.55 357.45 L381.78 357.45 L382.01 357.45 L382.24 357.45 L382.46 357.45 L382.69 357.45 L382.92 357.45 L383.15 357.45 L383.37 357.45 L383.6 357.45 L383.83 357.45 L384.05 357.45 L384.28 357.45 L384.51 357.45 L384.74 357.45 L384.96 357.45 L385.19 357.45 L385.42 357.45 L385.65 357.45 L385.87 357.45 L386.1 357.45 L386.33 357.45 L386.55 357.45 L386.78 357.45 L387.01 357.45 L387.24 357.45 L387.46 357.45 L387.69 357.45 L387.92 357.45 L388.15 357.45 L388.37 357.45 L388.6 357.45 L388.83 357.45 L389.05 357.45 L389.28 357.45 L389.51 357.45 L389.74 357.45 L389.96 357.45 L390.19 357.45 L390.42 357.45 L390.65 357.45 L390.87 357.45 L391.1 357.45 L391.33 357.45 L391.56 357.45 L391.78 357.45 L392.01 357.45 L392.24 357.45 L392.46 357.45 L392.69 357.45 L392.92 357.45 L393.15 357.45 L393.37 357.45 L393.6 357.45 L393.83 357.45 L394.06 357.45 L394.28 357.45 L394.51 357.45 L394.74 357.45 L394.96 357.45 L395.19 357.45 L395.42 357.45 L395.65 357.45 L395.87 357.45 L396.1 357.45 L396.33 357.45 L396.56 357.45 L396.78 357.45 L397.01 357.45 L397.24 357.45 L397.47 357.45 L397.69 357.45 L397.92 357.45 L398.15 357.45 L398.37 357.45 L398.6 357.45 L398.83 357.45 L399.06 357.45 L399.28 357.45 L399.51 357.45 L399.74 357.45 L399.97 357.45 L400.19 357.45 L400.42 357.45 L400.65 357.45 L400.87 357.45 L401.1 357.45 L401.33 357.45 L401.56 357.45 L401.78 357.45 L402.01 357.45 L402.24 357.45 L402.47 357.45 L402.69 357.45 L402.92 357.45 L403.15 357.45 L403.37 357.45 L403.6 357.45 L403.83 357.45 L404.06 357.45 L404.28 357.45 L404.51 357.45 L404.74 357.45 L404.97 357.45 L405.19 357.45 L405.42 357.45 L405.65 357.45 L405.88 357.45 L406.1 357.45 L406.33 357.45 L406.56 357.45 L406.78 357.45 L407.01 357.45 L407.24 357.45 L407.47 357.45 L407.69 357.45 L407.92 357.45 L408.15 357.45 L408.38 357.45 L408.6 357.45 L408.83 357.45 L409.06 357.45 L409.28 357.45 L409.51 357.45 L409.74 357.45 L409.97 357.45 L410.19 357.45 L410.42 357.45 L410.65 357.45 L410.88 357.45 L411.1 357.45 L411.33 357.45 L411.56 357.45 L411.78 357.45" stroke="#edb120" stroke-width="0.95" fill="none" stroke-linejoin="round" />
<path d="M309.5 333.96 L309.56 334.69 L309.61 335.39 L309.67 336.06 L309.73 336.72 L309.78 337.36 L309.84 337.98 L309.9 338.58 L309.95 339.16 L310.01 339.72 L310.07 340.27 L310.13 340.79 L310.18 341.31 L310.24 341.8 L310.3 342.29 L310.35 342.75 L310.41 343.2 L310.47 343.64 L310.52 344.07 L310.58 344.48 L310.64 344.88 L310.69 345.26 L310.75 345.64 L310.81 346 L310.86 346.36 L310.92 346.7 L310.98 347.03 L311.03 347.35 L311.09 347.66 L311.15 347.96 L311.2 348.25 L311.26 348.54 L311.32 348.81 L311.38 349.08 L311.43 349.33 L311.49 349.58 L311.55 349.82 L311.6 350.06 L311.66 350.29 L311.72 350.51 L311.77 350.72 L311.83 350.93 L311.89 351.13 L311.94 351.32 L312 351.51 L312.06 351.69 L312.11 351.87 L312.17 352.04 L312.23 352.21 L312.28 352.37 L312.34 352.53 L312.4 352.68 L312.45 352.83 L312.51 352.97 L312.57 353.11 L312.63 353.24 L312.68 353.37 L312.74 353.49 L312.8 353.62 L312.85 353.73 L312.91 353.85 L313.02 354.07 L313.14 354.27 L313.25 354.46 L313.36 354.64 L313.48 354.81 L313.59 354.97 L313.71 355.12 L313.82 355.27 L313.93 355.4 L314.05 355.52 L314.16 355.64 L314.27 355.75 L314.39 355.85 L314.5 355.95 L314.61 356.04 L314.73 356.12 L314.84 356.21 L314.96 356.28 L315.07 356.35 L315.18 356.42 L315.3 356.48 L315.41 356.54 L315.52 356.59 L315.64 356.65 L315.75 356.69 L315.86 356.74 L315.98 356.78 L316.09 356.82 L316.21 356.86 L316.32 356.9 L316.43 356.93 L316.55 356.96 L316.66 356.99 L316.77 357.02 L316.89 357.05 L317 357.07 L317.11 357.09 L317.23 357.11 L317.34 357.14 L317.46 357.15 L317.57 357.17 L317.68 357.19 L317.8 357.2 L317.91 357.22 L318.02 357.23 L318.14 357.25 L318.25 357.26 L318.36 357.27 L318.48 357.28 L318.59 357.29 L318.82 357.31 L319.05 357.33 L319.27 357.34 L319.5 357.35 L319.73 357.37 L319.96 357.38 L320.18 357.38 L320.41 357.39 L320.64 357.4 L320.87 357.4 L321.09 357.41 L321.32 357.41 L321.55 357.42 L321.77 357.42 L322 357.43 L322.23 357.43 L322.46 357.43 L322.68 357.43 L322.91 357.44 L323.14 357.44 L323.37 357.44 L323.59 357.44 L323.82 357.44 L324.05 357.44 L324.27 357.44 L324.5 357.44 L324.73 357.44 L324.96 357.38 L325.18 357.28 L325.41 357.2 L325.64 357.14 L325.87 357.09 L326.09 357.06 L326.32 357.05 L326.55 357.04 L326.77 357.04 L327 357.04 L327.23 357.05 L327.46 357.06 L327.68 357.07 L327.91 357.09 L328.14 357.11 L328.37 357.13 L328.59 355.19 L328.82 355.33 L329.05 355.46 L329.28 355.59 L329.5 355.72 L329.73 355.84 L329.96 355.96 L330.18 356.07 L330.41 356.17 L330.64 356.27 L330.87 356.36 L331.09 356.45 L331.32 356.53 L331.55 356.61 L331.78 356.68 L332 356.74 L332.23 352.67 L332.46 353.25 L332.68 353.76 L332.91 354.2 L333.14 354.59 L333.37 354.94 L333.59 355.24 L333.82 355.51 L334.05 355.74 L334.28 355.95 L334.5 356.13 L334.73 356.29 L334.96 356.43 L335.18 356.55 L335.41 356.66 L335.64 356.76 L335.87 356.84 L336.09 353.49 L336.32 353.97 L336.55 354.4 L336.78 354.77 L337 355.09 L337.23 355.38 L337.46 355.63 L337.69 355.85 L337.91 356.05 L338.14 356.22 L338.37 356.37 L338.59 356.5 L338.82 356.62 L339.05 356.72 L339.28 356.81 L339.5 356.89 L339.73 353.8 L339.96 354.25 L340.19 354.64 L340.41 354.99 L340.64 355.29 L340.87 355.55 L341.09 355.79 L341.32 355.99 L341.55 356.17 L341.78 356.33 L342 356.47 L342.23 356.59 L342.46 356.7 L342.69 356.79 L342.91 356.87 L343.14 356.94 L343.37 357.01 L343.59 354.58 L343.82 354.94 L344.05 355.25 L344.28 355.53 L344.5 355.77 L344.73 355.98 L344.96 356.16 L345.19 356.32 L345.41 356.47 L345.64 356.59 L345.87 356.7 L346.1 356.79 L346.32 356.88 L346.55 356.95 L346.78 357.01 L347 357.07 L347.23 357.12 L347.46 355.3 L347.69 355.57 L347.91 355.81 L348.14 356.02 L348.37 356.2 L348.6 356.36 L348.82 356.5 L349.05 356.63 L349.28 356.73 L349.5 356.83 L349.73 356.91 L349.96 356.98 L350.19 357.04 L350.41 357.09 L350.64 357.14 L350.87 357.18 L351.1 355.72 L351.32 355.95 L351.55 356.15 L351.78 356.32 L352.01 356.47 L352.23 356.61 L352.46 356.72 L352.69 356.82 L352.91 356.9 L353.14 356.98 L353.37 357.04 L353.6 357.1 L353.82 357.15 L354.05 357.19 L354.28 357.23 L354.51 357.26 L354.73 357.28 L354.96 356.4 L355.19 356.55 L355.41 356.68 L355.64 356.79 L355.87 356.89 L356.1 356.97 L356.32 357.04 L356.55 357.1 L356.78 357.16 L357.01 357.2 L357.23 357.24 L357.46 357.27 L357.69 357.3 L357.91 357.33 L358.14 357.35 L358.37 357.36 L358.6 356.92 L358.82 357.02 L359.05 357.1 L359.28 357.16 L359.51 357.22 L359.73 357.26 L359.96 357.3 L360.19 357.34 L360.42 357.36 L360.64 357.39 L360.87 357.4 L361.1 357.42 L361.32 357.43 L361.55 357.44 L361.78 357.45 L362.01 357.45 L362.23 357.45 L362.46 357.45 L362.69 357.45 L362.92 357.45 L363.14 357.45 L363.37 357.45 L363.6 357.45 L363.82 357.45 L364.05 357.45 L364.28 357.45 L364.51 357.45 L364.73 357.45 L364.96 357.45 L365.19 357.45 L365.42 357.45 L365.64 357.45 L365.87 357.45 L366.1 357.45 L366.32 357.45 L366.55 357.45 L366.78 357.45 L367.01 357.45 L367.23 357.45 L367.46 357.45 L367.69 357.45 L367.92 357.45 L368.14 357.45 L368.37 357.45 L368.6 357.45 L368.83 357.45 L369.05 357.45 L369.28 357.45 L369.51 357.45 L369.73 357.45 L369.96 357.45 L370.19 357.45 L370.42 357.45 L370.64 357.45 L370.87 357.45 L371.1 357.45 L371.33 357.45 L371.55 357.45 L371.78 357.45 L372.01 357.45 L372.23 357.45 L372.46 357.45 L372.69 357.45 L372.92 357.45 L373.14 357.45 L373.37 357.45 L373.6 357.45 L373.83 357.45 L374.05 357.45 L374.28 357.45 L374.51 357.45 L374.74 357.45 L374.96 357.45 L375.19 357.45 L375.42 357.45 L375.64 357.45 L375.87 357.45 L376.1 357.45 L376.33 357.45 L376.55 357.45 L376.78 357.45 L377.01 357.45 L377.24 357.45 L377.46 357.45 L377.69 357.45 L377.92 357.45 L378.14 357.45 L378.37 357.45 L378.6 357.45 L378.83 357.45 L379.05 357.45 L379.28 357.45 L379.51 357.45 L379.74 357.45 L379.96 357.45 L380.19 357.45 L380.42 357.45 L380.64 357.45 L380.87 357.45 L381.1 357.45 L381.33 357.45 L381.55 357.45 L381.78 357.45 L382.01 357.45 L382.24 357.45 L382.46 357.45 L382.69 357.45 L382.92 357.45 L383.15 357.45 L383.37 357.45 L383.6 357.45 L383.83 357.45 L384.05 357.45 L384.28 357.45 L384.51 357.45 L384.74 357.45 L384.96 357.45 L385.19 357.45 L385.42 357.45 L385.65 357.45 L385.87 357.45 L386.1 357.45 L386.33 357.45 L386.55 357.45 L386.78 357.45 L387.01 357.45 L387.24 357.45 L387.46 357.45 L387.69 357.45 L387.92 357.45 L388.15 357.45 L388.37 357.45 L388.6 357.45 L388.83 357.45 L389.05 357.45 L389.28 357.45 L389.51 357.45 L389.74 357.45 L389.96 357.45 L390.19 357.45 L390.42 357.45 L390.65 357.45 L390.87 357.45 L391.1 357.45 L391.33 357.45 L391.56 357.45 L391.78 357.45 L392.01 357.45 L392.24 357.45 L392.46 357.45 L392.69 357.45 L392.92 357.45 L393.15 357.45 L393.37 357.45 L393.6 357.45 L393.83 357.45 L394.06 357.45 L394.28 357.45 L394.51 357.45 L394.74 357.45 L394.96 357.45 L395.19 357.45 L395.42 357.45 L395.65 357.45 L395.87 357.45 L396.1 357.45 L396.33 357.45 L396.56 357.45 L396.78 357.45 L397.01 357.45 L397.24 357.45 L397.47 357.45 L397.69 357.45 L397.92 357.45 L398.15 357.45 L398.37 357.45 L398.6 357.45 L398.83 357.45 L399.06 357.45 L399.28 357.45 L399.51 357.45 L399.74 357.45 L399.97 357.45 L400.19 357.45 L400.42 357.45 L400.65 357.45 L400.87 357.45 L401.1 357.45 L401.33 357.45 L401.56 357.45 L401.78 357.45 L402.01 357.45 L402.24 357.45 L402.47 357.45 L402.69 357.45 L402.92 357.45 L403.15 357.45 L403.37 357.45 L403.6 357.45 L403.83 357.45 L404.06 357.45 L404.28 357.45 L404.51 357.45 L404.74 357.45 L404.97 357.45 L405.19 357.45 L405.42 357.45 L405.65 357.45 L405.88 357.45 L406.1 357.45 L406.33 357.45 L406.56 357.45 L406.78 357.45 L407.01 357.45 L407.24 357.45 L407.47 357.45 L407.69 357.45 L407.92 357.45 L408.15 357.45 L408.38 357.45 L408.6 357.45 L408.83 357.45 L409.06 357.45 L409.28 357.45 L409.51 357.45 L409.74 357.45 L409.97 357.45 L410.19 357.45 L410.42 357.45 L410.65 357.45 L410.88 357.45 L411.1 357.45 L411.33 357.45 L411.56 357.45 L411.78 357.45" stroke="#7e2f8e" stroke-width="0.95" fill="none" stroke-linejoin="round" />
<path d="M309.5 353.69 L309.56 353.88 L309.61 354.05 L309.67 354.22 L309.73 354.37 L309.78 354.52 L309.84 354.67 L309.9 354.8 L309.95 354.93 L310.01 355.05 L310.07 355.17 L310.13 355.28 L310.18 355.39 L310.24 355.49 L310.3 355.59 L310.35 355.68 L310.41 355.77 L310.47 355.85 L310.52 355.93 L310.58 356.01 L310.64 356.09 L310.69 356.16 L310.75 356.23 L310.81 356.3 L310.86 356.36 L310.92 356.43 L310.98 356.49 L311.03 356.56 L311.09 356.62 L311.15 356.68 L311.2 356.74 L311.26 356.81 L311.32 356.87 L311.38 356.93 L311.43 356.99 L311.49 357.06 L311.55 357.12 L311.6 357.18 L311.66 357.24 L311.72 357.31 L311.77 357.37 L311.83 357.42 L311.89 357.48 L311.94 357.53 L312 357.58 L312.06 357.62 L312.11 357.66 L312.17 357.7 L312.23 357.73 L312.28 357.75 L312.34 357.77 L312.4 357.78 L312.45 357.79 L312.51 357.79 L312.57 357.79 L312.63 357.78 L312.68 357.77 L312.74 357.75 L312.8 357.73 L312.85 357.71 L312.91 357.69 L313.02 357.46 L313.14 357.24 L313.25 357.06 L313.36 353 L313.48 353.24 L313.59 353.47 L313.71 353.69 L313.82 353.9 L313.93 354.11 L314.05 354.3 L314.16 354.49 L314.27 354.67 L314.39 354.83 L314.5 354.99 L314.61 355.14 L314.73 355.28 L314.84 355.41 L314.96 355.54 L315.07 355.65 L315.18 355.76 L315.3 355.87 L315.41 355.96 L315.52 356.05 L315.64 356.14 L315.75 356.22 L315.86 356.29 L315.98 356.36 L316.09 356.43 L316.21 356.49 L316.32 356.55 L316.43 356.6 L316.55 356.66 L316.66 356.7 L316.77 356.75 L316.89 356.79 L317 356.83 L317.11 353.19 L317.23 353.45 L317.34 353.69 L317.46 353.92 L317.57 354.13 L317.68 354.33 L317.8 354.52 L317.91 354.7 L318.02 354.86 L318.14 355.02 L318.25 355.17 L318.36 355.31 L318.48 355.44 L318.59 355.56 L318.82 355.78 L319.05 355.98 L319.27 356.15 L319.5 356.3 L319.73 356.44 L319.96 356.56 L320.18 356.66 L320.41 356.75 L320.64 356.84 L320.87 353.45 L321.09 353.92 L321.32 354.33 L321.55 354.7 L321.77 355.02 L322 355.31 L322.23 355.56 L322.46 355.78 L322.68 355.98 L322.91 356.15 L323.14 356.31 L323.37 356.44 L323.59 356.56 L323.82 356.66 L324.05 356.76 L324.27 356.84 L324.5 356.91 L324.73 353.93 L324.96 354.35 L325.18 354.71 L325.41 355.04 L325.64 355.32 L325.87 355.57 L326.09 355.79 L326.32 355.99 L326.55 356.16 L326.77 356.31 L327 356.45 L327.23 356.57 L327.46 356.67 L327.68 356.76 L327.91 356.84 L328.14 356.92 L328.37 356.98 L328.59 354.38 L328.82 354.75 L329.05 355.07 L329.28 355.35 L329.5 355.6 L329.73 355.82 L329.96 356.01 L330.18 356.18 L330.41 356.33 L330.64 356.46 L330.87 356.58 L331.09 356.68 L331.32 356.77 L331.55 356.85 L331.78 356.93 L332 356.99 L332.23 354.44 L332.46 354.81 L332.68 355.14 L332.91 355.43 L333.14 355.68 L333.37 355.9 L333.59 356.09 L333.82 356.26 L334.05 356.41 L334.28 356.54 L334.5 356.65 L334.73 356.75 L334.96 356.84 L335.18 356.92 L335.41 356.98 L335.64 357.04 L335.87 357.09 L336.09 355.16 L336.32 355.45 L336.55 355.7 L336.78 355.92 L337 356.12 L337.23 356.29 L337.46 356.43 L337.69 356.56 L337.91 356.68 L338.14 356.78 L338.37 356.86 L338.59 356.94 L338.82 357.01 L339.05 357.06 L339.28 357.11 L339.5 357.16 L339.73 355.57 L339.96 355.81 L340.19 356.03 L340.41 356.21 L340.64 356.38 L340.87 356.52 L341.09 356.64 L341.32 356.75 L341.55 356.84 L341.78 356.92 L342 356.99 L342.23 357.06 L342.46 357.11 L342.69 357.16 L342.91 357.2 L343.14 357.23 L343.37 357.26 L343.59 356.24 L343.82 356.41 L344.05 356.56 L344.28 356.68 L344.5 356.79 L344.73 356.88 L344.96 356.96 L345.19 357.03 L345.41 357.1 L345.64 357.15 L345.87 357.19 L346.1 357.23 L346.32 357.26 L346.55 357.29 L346.78 357.32 L347 357.34 L347.23 357.35 L347.46 356.8 L347.69 356.88 L347.91 356.95 L348.14 357.01 L348.37 357.06 L348.6 357.11 L348.82 357.15 L349.05 357.19 L349.28 357.22 L349.5 357.25 L349.73 357.27 L349.96 357.29 L350.19 357.31 L350.41 357.33 L350.64 357.34 L350.87 357.36 L351.1 356.84 L351.32 356.91 L351.55 356.98 L351.78 357.04 L352.01 357.09 L352.23 357.13 L352.46 357.17 L352.69 357.2 L352.91 357.23 L353.14 357.26 L353.37 357.28 L353.6 357.3 L353.82 357.32 L354.05 357.34 L354.28 357.35 L354.51 357.36 L354.73 357.37 L354.96 356.95 L355.19 357.01 L355.41 357.07 L355.64 357.11 L355.87 357.15 L356.1 357.19 L356.32 357.22 L356.55 357.25 L356.78 357.28 L357.01 357.3 L357.23 357.32 L357.46 357.33 L357.69 357.35 L357.91 357.36 L358.14 357.37 L358.37 357.38 L358.6 357 L358.82 357.06 L359.05 357.11 L359.28 357.15 L359.51 357.19 L359.73 357.22 L359.96 357.25 L360.19 357.27 L360.42 357.29 L360.64 357.31 L360.87 357.33 L361.1 357.35 L361.32 357.36 L361.55 357.37 L361.78 357.38 L362.01 357.39 L362.23 357.4 L362.46 357.11 L362.69 357.15 L362.92 357.19 L363.14 357.22 L363.37 357.25 L363.6 357.28 L363.82 357.3 L364.05 357.32 L364.28 357.34 L364.51 357.35 L364.73 357.36 L364.96 357.37 L365.19 357.38 L365.42 357.39 L365.64 357.4 L365.87 357.41 L366.1 357.41 L366.32 357.21 L366.55 357.24 L366.78 357.27 L367.01 357.29 L367.23 357.31 L367.46 357.33 L367.69 357.35 L367.92 357.36 L368.14 357.37 L368.37 357.38 L368.6 357.39 L368.83 357.4 L369.05 357.41 L369.28 357.41 L369.51 357.42 L369.73 357.42 L369.96 357.27 L370.19 357.3 L370.42 357.32 L370.64 357.34 L370.87 357.35 L371.1 357.37 L371.33 357.38 L371.55 357.39 L371.78 357.4 L372.01 357.41 L372.23 357.41 L372.46 357.42 L372.69 357.42 L372.92 357.43 L373.14 357.43 L373.37 357.43 L373.6 357.44 L373.83 357.37 L374.05 357.38 L374.28 357.39 L374.51 357.4 L374.74 357.41 L374.96 357.42 L375.19 357.42 L375.42 357.43 L375.64 357.43 L375.87 357.44 L376.1 357.44 L376.33 357.44 L376.55 357.44 L376.78 357.45 L377.01 357.45 L377.24 357.45 L377.46 357.44 L377.69 357.45 L377.92 357.45 L378.14 357.45 L378.37 357.45 L378.6 357.45 L378.83 357.45 L379.05 357.45 L379.28 357.45 L379.51 357.45 L379.74 357.45 L379.96 357.45 L380.19 357.45 L380.42 357.45 L380.64 357.45 L380.87 357.45 L381.1 357.45 L381.33 357.45 L381.55 357.45 L381.78 357.45 L382.01 357.45 L382.24 357.45 L382.46 357.45 L382.69 357.45 L382.92 357.45 L383.15 357.45 L383.37 357.45 L383.6 357.45 L383.83 357.45 L384.05 357.45 L384.28 357.45 L384.51 357.45 L384.74 357.45 L384.96 357.45 L385.19 357.45 L385.42 357.45 L385.65 357.45 L385.87 357.45 L386.1 357.45 L386.33 357.45 L386.55 357.45 L386.78 357.45 L387.01 357.45 L387.24 357.45 L387.46 357.45 L387.69 357.45 L387.92 357.45 L388.15 357.45 L388.37 357.45 L388.6 357.45 L388.83 357.45 L389.05 357.45 L389.28 357.45 L389.51 357.45 L389.74 357.45 L389.96 357.45 L390.19 357.45 L390.42 357.45 L390.65 357.45 L390.87 357.45 L391.1 357.45 L391.33 357.45 L391.56 357.45 L391.78 357.45 L392.01 357.45 L392.24 357.45 L392.46 357.45 L392.69 357.45 L392.92 357.45 L393.15 357.45 L393.37 357.45 L393.6 357.45 L393.83 357.45 L394.06 357.45 L394.28 357.45 L394.51 357.45 L394.74 357.45 L394.96 357.45 L395.19 357.45 L395.42 357.45 L395.65 357.45 L395.87 357.45 L396.1 357.45 L396.33 357.45 L396.56 357.45 L396.78 357.45 L397.01 357.45 L397.24 357.45 L397.47 357.45 L397.69 357.45 L397.92 357.45 L398.15 357.45 L398.37 357.45 L398.6 357.45 L398.83 357.45 L399.06 357.45 L399.28 357.45 L399.51 357.45 L399.74 357.45 L399.97 357.45 L400.19 357.45 L400.42 357.45 L400.65 357.45 L400.87 357.45 L401.1 357.45 L401.33 357.45 L401.56 357.45 L401.78 357.45 L402.01 357.45 L402.24 357.45 L402.47 357.45 L402.69 357.45 L402.92 357.45 L403.15 357.45 L403.37 357.45 L403.6 357.45 L403.83 357.45 L404.06 357.45 L404.28 357.45 L404.51 357.45 L404.74 357.45 L404.97 357.45 L405.19 357.45 L405.42 357.45 L405.65 357.45 L405.88 357.45 L406.1 357.45 L406.33 357.45 L406.56 357.45 L406.78 357.45 L407.01 357.45 L407.24 357.45 L407.47 357.45 L407.69 357.45 L407.92 357.45 L408.15 357.45 L408.38 357.45 L408.6 357.45 L408.83 357.45 L409.06 357.45 L409.28 357.45 L409.51 357.45 L409.74 357.45 L409.97 357.45 L410.19 357.45 L410.42 357.45 L410.65 357.45 L410.88 357.45 L411.1 357.45 L411.33 357.45 L411.56 357.45 L411.78 357.45" stroke="#77ac30" stroke-width="0.95" fill="none" stroke-linejoin="round" />
<path d="M309.5 266.63 L309.56 273.93 L309.61 279.97 L309.67 285.03 L309.73 289.32 L309.78 292.99 L309.84 296.18 L309.9 298.97 L309.95 301.46 L310.01 303.69 L310.07 305.72 L310.13 307.58 L310.18 309.3 L310.24 310.91 L310.3 312.41 L310.35 313.84 L310.41 315.19 L310.47 316.48 L310.52 317.72 L310.58 318.9 L310.64 320.04 L310.69 321.14 L310.75 322.2 L310.81 323.22 L310.86 324.21 L310.92 325.17 L310.98 326.1 L311.03 327 L311.09 327.87 L311.15 328.72 L311.2 329.54 L311.26 330.34 L311.32 331.11 L311.38 331.86 L311.43 332.59 L311.49 333.3 L311.55 333.99 L311.6 334.66 L311.66 335.31 L311.72 335.94 L311.77 336.55 L311.83 337.15 L311.89 337.73 L311.94 338.29 L312 338.84 L312.06 339.37 L312.11 339.88 L312.17 340.38 L312.23 340.87 L312.28 341.34 L312.34 341.8 L312.4 342.25 L312.45 342.68 L312.51 343.1 L312.57 343.51 L312.63 343.91 L312.68 344.29 L312.74 344.67 L312.8 345.03 L312.85 345.38 L312.91 345.73 L313.02 346.39 L313.14 347.01 L313.25 347.59 L313.36 348.15 L313.48 348.67 L313.59 349.16 L313.71 349.63 L313.82 350.07 L313.93 350.48 L314.05 350.87 L314.16 351.24 L314.27 351.59 L314.39 351.92 L314.5 352.23 L314.61 352.52 L314.73 352.8 L314.84 353.06 L314.96 353.31 L315.07 353.54 L315.18 353.76 L315.3 353.97 L315.41 354.16 L315.52 354.35 L315.64 354.52 L315.75 354.69 L315.86 354.84 L315.98 354.99 L316.09 355.13 L316.21 355.26 L316.32 355.38 L316.43 355.5 L316.55 355.61 L316.66 355.71 L316.77 355.81 L316.89 355.9 L317 355.99 L317.11 356.07 L317.23 356.15 L317.34 356.22 L317.46 356.29 L317.57 356.35 L317.68 356.42 L317.8 356.47 L317.91 356.53 L318.02 356.58 L318.14 356.63 L318.25 356.68 L318.36 356.72 L318.48 356.76 L318.59 356.8 L318.82 356.87 L319.05 356.93 L319.27 356.99 L319.5 357.04 L319.73 357.08 L319.96 357.12 L320.18 357.16 L320.41 357.19 L320.64 357.22 L320.87 357.25 L321.09 357.27 L321.32 357.29 L321.55 357.31 L321.77 357.32 L322 357.33 L322.23 357.35 L322.46 357.36 L322.68 357.37 L322.91 357.38 L323.14 357.39 L323.37 357.39 L323.59 357.4 L323.82 357.4 L324.05 357.41 L324.27 357.41 L324.5 357.42 L324.73 357.42 L324.96 357.42 L325.18 357.43 L325.41 357.43 L325.64 357.43 L325.87 357.43 L326.09 357.44 L326.32 357.44 L326.55 357.44 L326.77 357.44 L327 357.44 L327.23 357.44 L327.46 357.44 L327.68 357.44 L327.91 357.44 L328.14 357.44 L328.37 357.45 L328.59 357.45 L328.82 357.45 L329.05 357.45 L329.28 357.45 L329.5 357.45 L329.73 357.45 L329.96 357.45 L330.18 357.45 L330.41 357.45 L330.64 357.45 L330.87 357.45 L331.09 357.45 L331.32 357.45 L331.55 357.45 L331.78 357.45 L332 357.45 L332.23 357.45 L332.46 357.45 L332.68 357.45 L332.91 357.45 L333.14 357.45 L333.37 357.45 L333.59 357.45 L333.82 357.45 L334.05 357.45 L334.28 357.45 L334.5 357.45 L334.73 357.45 L334.96 357.45 L335.18 357.45 L335.41 357.45 L335.64 357.45 L335.87 357.45 L336.09 357.45 L336.32 357.45 L336.55 357.45 L336.78 357.45 L337 357.45 L337.23 357.45 L337.46 357.45 L337.69 357.45 L337.91 357.45 L338.14 357.45 L338.37 357.45 L338.59 357.45 L338.82 357.45 L339.05 357.45 L339.28 357.45 L339.5 357.45 L339.73 357.45 L339.96 357.45 L340.19 357.45 L340.41 357.45 L340.64 357.45 L340.87 357.45 L341.09 357.45 L341.32 357.45 L341.55 357.45 L341.78 357.45 L342 357.45 L342.23 357.45 L342.46 357.45 L342.69 357.45 L342.91 357.45 L343.14 357.45 L343.37 357.45 L343.59 357.45 L343.82 357.45 L344.05 357.45 L344.28 357.45 L344.5 357.45 L344.73 357.45 L344.96 357.45 L345.19 357.45 L345.41 357.45 L345.64 357.45 L345.87 357.45 L346.1 357.45 L346.32 357.45 L346.55 357.45 L346.78 357.45 L347 357.45 L347.23 357.45 L347.46 357.45 L347.69 357.45 L347.91 357.45 L348.14 357.45 L348.37 357.45 L348.6 357.45 L348.82 357.45 L349.05 357.45 L349.28 357.45 L349.5 357.45 L349.73 357.45 L349.96 357.45 L350.19 357.45 L350.41 357.45 L350.64 357.45 L350.87 357.45 L351.1 357.45 L351.32 357.45 L351.55 357.45 L351.78 357.45 L352.01 357.45 L352.23 357.45 L352.46 357.45 L352.69 357.45 L352.91 357.45 L353.14 357.45 L353.37 357.45 L353.6 357.45 L353.82 357.45 L354.05 357.45 L354.28 357.45 L354.51 357.45 L354.73 357.45 L354.96 357.45 L355.19 357.45 L355.41 357.45 L355.64 357.45 L355.87 357.45 L356.1 357.45 L356.32 357.45 L356.55 357.45 L356.78 357.45 L357.01 357.45 L357.23 357.45 L357.46 357.45 L357.69 357.45 L357.91 357.45 L358.14 357.45 L358.37 357.45 L358.6 357.45 L358.82 357.45 L359.05 357.45 L359.28 357.45 L359.51 357.45 L359.73 357.45 L359.96 357.45 L360.19 357.45 L360.42 357.45 L360.64 357.45 L360.87 357.45 L361.1 357.45 L361.32 357.45 L361.55 357.45 L361.78 357.45 L362.01 357.45 L362.23 357.45 L362.46 357.45 L362.69 357.45 L362.92 357.45 L363.14 357.45 L363.37 357.45 L363.6 357.45 L363.82 357.45 L364.05 357.45 L364.28 357.45 L364.51 357.45 L364.73 357.45 L364.96 357.45 L365.19 357.45 L365.42 357.45 L365.64 357.45 L365.87 357.45 L366.1 357.45 L366.32 357.45 L366.55 357.45 L366.78 357.45 L367.01 357.45 L367.23 357.45 L367.46 357.45 L367.69 357.45 L367.92 357.45 L368.14 357.45 L368.37 357.45 L368.6 357.45 L368.83 357.45 L369.05 357.45 L369.28 357.45 L369.51 357.45 L369.73 357.45 L369.96 357.45 L370.19 357.45 L370.42 357.45 L370.64 357.45 L370.87 357.45 L371.1 357.45 L371.33 357.45 L371.55 357.45 L371.78 357.45 L372.01 357.45 L372.23 357.45 L372.46 357.45 L372.69 357.45 L372.92 357.45 L373.14 357.45 L373.37 357.45 L373.6 357.45 L373.83 357.45 L374.05 357.45 L374.28 357.45 L374.51 357.45 L374.74 357.45 L374.96 357.45 L375.19 357.45 L375.42 357.45 L375.64 357.45 L375.87 357.45 L376.1 357.45 L376.33 357.45 L376.55 357.45 L376.78 357.45 L377.01 357.45 L377.24 357.45 L377.46 357.45 L377.69 357.45 L377.92 357.45 L378.14 357.45 L378.37 357.45 L378.6 357.45 L378.83 357.45 L379.05 357.45 L379.28 357.45 L379.51 357.45 L379.74 357.45 L379.96 357.45 L380.19 357.45 L380.42 357.45 L380.64 357.45 L380.87 357.45 L381.1 357.45 L381.33 357.45 L381.55 357.45 L381.78 357.45 L382.01 357.45 L382.24 357.45 L382.46 357.45 L382.69 357.45 L382.92 357.45 L383.15 357.45 L383.37 357.45 L383.6 357.45 L383.83 357.45 L384.05 357.45 L384.28 357.45 L384.51 357.45 L384.74 357.45 L384.96 357.45 L385.19 357.45 L385.42 357.45 L385.65 357.45 L385.87 357.45 L386.1 357.45 L386.33 357.45 L386.55 357.45 L386.78 357.45 L387.01 357.45 L387.24 357.45 L387.46 357.45 L387.69 357.45 L387.92 357.45 L388.15 357.45 L388.37 357.45 L388.6 357.45 L388.83 357.45 L389.05 357.45 L389.28 357.45 L389.51 357.45 L389.74 357.45 L389.96 357.45 L390.19 357.45 L390.42 357.45 L390.65 357.45 L390.87 357.45 L391.1 357.45 L391.33 357.45 L391.56 357.45 L391.78 357.45 L392.01 357.45 L392.24 357.45 L392.46 357.45 L392.69 357.45 L392.92 357.45 L393.15 357.45 L393.37 357.45 L393.6 357.45 L393.83 357.45 L394.06 357.45 L394.28 357.45 L394.51 357.45 L394.74 357.45 L394.96 357.45 L395.19 357.45 L395.42 357.45 L395.65 357.45 L395.87 357.45 L396.1 357.45 L396.33 357.45 L396.56 357.45 L396.78 357.45 L397.01 357.45 L397.24 357.45 L397.47 357.45 L397.69 357.45 L397.92 357.45 L398.15 357.45 L398.37 357.45 L398.6 357.45 L398.83 357.45 L399.06 357.45 L399.28 357.45 L399.51 357.45 L399.74 357.45 L399.97 357.45 L400.19 357.45 L400.42 357.45 L400.65 357.45 L400.87 357.45 L401.1 357.45 L401.33 357.45 L401.56 357.45 L401.78 357.45 L402.01 357.45 L402.24 357.45 L402.47 357.45 L402.69 357.45 L402.92 357.45 L403.15 357.45 L403.37 357.45 L403.6 357.45 L403.83 357.45 L404.06 357.45 L404.28 357.45 L404.51 357.45 L404.74 357.45 L404.97 357.45 L405.19 357.45 L405.42 357.45 L405.65 357.45 L405.88 357.45 L406.1 357.45 L406.33 357.45 L406.56 357.45 L406.78 357.45 L407.01 357.45 L407.24 357.45 L407.47 357.45 L407.69 357.45 L407.92 357.45 L408.15 357.45 L408.38 357.45 L408.6 357.45 L408.83 357.45 L409.06 357.45 L409.28 357.45 L409.51 357.45 L409.74 357.45 L409.97 357.45 L410.19 357.45 L410.42 357.45 L410.65 357.45 L410.88 357.45 L411.1 357.45 L411.33 357.45 L411.56 357.45 L411.78 357.45 L445.88 357.45 L491.34 357.45 L536.8 357.45" stroke="#4dbeee" stroke-width="1.08" fill="none" stroke-linejoin="round" />
<text transform="translate(309.5 460.7) rotate(0.05) scale(1.03 1.0)" x="-1.7" font-family="'Liberation Serif',serif" font-size="6.8" fill="#262626">0</text>
<text transform="translate(332.23 460.7) rotate(0.05) scale(1.03 1.0)" x="-5.1" font-family="'Liberation Serif',serif" font-size="6.8" fill="#262626">200</text>
<text transform="translate(354.96 460.7) rotate(0.05) scale(1.03 1.0)" x="-5.1" font-family="'Liberation Serif',serif" font-size="6.8" fill="#262626">400</text>
<text transform="translate(377.69 460.7) rotate(0.05) scale(1.03 1.0)" x="-5.1" font-family="'Liberation Serif',serif" font-size="6.8" fill="#262626">600</text>
<text transform="translate(400.42 460.7) rotate(0.05) scale(1.03 1.0)" x="-5.1" font-family="'Liberation Serif',serif" font-size="6.8" fill="#262626">800</text>
<text transform="translate(423.15 460.7) rotate(0.05) scale(1.03 1.0)" x="-6.8" font-family="'Liberation Serif',serif" font-size="6.8" fill="#262626">1000</text>
<text transform="translate(445.88 460.7) rotate(0.05) scale(1.03 1.0)" x="-6.8" font-family="'Liberation Serif',serif" font-size="6.8" fill="#262626">1200</text>
<text transform="translate(468.61 460.7) rotate(0.05) scale(1.03 1.0)" x="-6.8" font-family="'Liberation Serif',serif" font-size="6.8" fill="#262626">1400</text>
<text transform="translate(491.34 460.7) rotate(0.05) scale(1.03 1.0)" x="-6.8" font-family="'Liberation Serif',serif" font-size="6.8" fill="#262626">1600</text>
<text transform="translate(514.07 460.7) rotate(0.05) scale(1.03 1.0)" x="-6.8" font-family="'Liberation Serif',serif" font-size="6.8" fill="#262626">1800</text>
<text transform="translate(536.8 460.7) rotate(0.05) scale(1.03 1.0)" x="-6.8" font-family="'Liberation Serif',serif" font-size="6.8" fill="#262626">2000</text>
<text transform="translate(306.9 453.8) rotate(0.05) scale(1.03 1.0)" x="-3.4" font-family="'Liberation Serif',serif" font-size="6.8" fill="#262626">3</text>
<text transform="translate(303.85 453.8) rotate(0.05) scale(1.4 1.0)" x="-3.83" font-family="'Liberation Serif',serif" font-size="6.8" fill="#262626">−</text>
<text transform="translate(306.9 422.48) rotate(0.05) scale(1.03 1.0)" x="-3.4" font-family="'Liberation Serif',serif" font-size="6.8" fill="#262626">2</text>
<text transform="translate(303.85 422.48) rotate(0.05) scale(1.4 1.0)" x="-3.83" font-family="'Liberation Serif',serif" font-size="6.8" fill="#262626">−</text>
<text transform="translate(306.9 391.17) rotate(0.05) scale(1.03 1.0)" x="-3.4" font-family="'Liberation Serif',serif" font-size="6.8" fill="#262626">1</text>
<text transform="translate(303.85 391.17) rotate(0.05) scale(1.4 1.0)" x="-3.83" font-family="'Liberation Serif',serif" font-size="6.8" fill="#262626">−</text>
<text transform="translate(306.9 359.85) rotate(0.05) scale(1.03 1.0)" x="-3.4" font-family="'Liberation Serif',serif" font-size="6.8" fill="#262626">0</text>
<text transform="translate(306.9 328.53) rotate(0.05) scale(1.03 1.0)" x="-3.4" font-family="'Liberation Serif',serif" font-size="6.8" fill="#262626">1</text>
<text transform="translate(306.9 297.22) rotate(0.05) scale(1.03 1.0)" x="-3.4" font-family="'Liberation Serif',serif" font-size="6.8" fill="#262626">2</text>
<text transform="translate(306.9 265.9) rotate(0.05) scale(1.03 1.0)" x="-3.4" font-family="'Liberation Serif',serif" font-size="6.8" fill="#262626">3</text>
<text transform="translate(423.15 472.4) rotate(0.05) scale(1 1.1)" x="-13.73" font-family="'Liberation Sans',sans-serif" font-size="7.6" fill="#262626">Iteration</text>
<text transform="translate(293.3 357.45) rotate(-89.95) scale(1.215 1)" x="-19.46" font-family="'Liberation Sans',sans-serif" font-size="6.8" fill="#262626">Joint velocity</text>
<rect x="499.2" y="269.1" width="32" height="56.2" rx="0.8" fill="#fff" stroke="#8a8a8a" stroke-width="0.8"/>
<path d="M502.4 274.3H522.3" stroke="#0072bd" stroke-width="1.25"/>
<text transform="translate(524 276.45) rotate(0.05) scale(1 1.1)" font-family="'Liberation Sans',sans-serif" font-size="5.8" fill="#1a1a1a">j1</text>
<path d="M502.4 283.43H522.3" stroke="#d95319" stroke-width="1.25"/>
<text transform="translate(524 285.58) rotate(0.05) scale(1 1.1)" font-family="'Liberation Sans',sans-serif" font-size="5.8" fill="#1a1a1a">j2</text>
<path d="M502.4 292.56H522.3" stroke="#edb120" stroke-width="1.25"/>
<text transform="translate(524 294.71) rotate(0.05) scale(1 1.1)" font-family="'Liberation Sans',sans-serif" font-size="5.8" fill="#1a1a1a">j3</text>
<path d="M502.4 301.69H522.3" stroke="#7e2f8e" stroke-width="1.25"/>
<text transform="translate(524 303.84) rotate(0.05) scale(1 1.1)" font-family="'Liberation Sans',sans-serif" font-size="5.8" fill="#1a1a1a">j4</text>
<path d="M502.4 310.82H522.3" stroke="#77ac30" stroke-width="1.25"/>
<text transform="translate(524 312.97) rotate(0.05) scale(1 1.1)" font-family="'Liberation Sans',sans-serif" font-size="5.8" fill="#1a1a1a">j5</text>
<path d="M502.4 319.95H522.3" stroke="#4dbeee" stroke-width="1.25"/>
<text transform="translate(524 322.1) rotate(0.05) scale(1 1.1)" font-family="'Liberation Sans',sans-serif" font-size="5.8" fill="#1a1a1a">j6</text>
<text transform="translate(265.59 237) scale(0.93 1.03)" font-family="'Liberation Serif',serif" font-weight="bold" font-size="12" fill="#111">(a)</text>
<text transform="translate(264.98 490.5) scale(0.93 1.03)" font-family="'Liberation Serif',serif" font-weight="bold" font-size="12" fill="#111">(b)</text>
</svg>
</body></html>
